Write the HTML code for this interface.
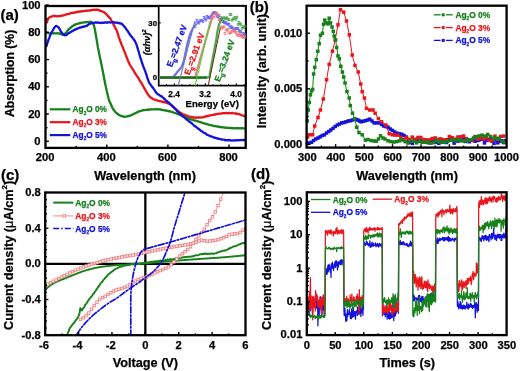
<!DOCTYPE html>
<html><head><meta charset="utf-8"><title>Ag2O figure</title>
<style>html,body{margin:0;padding:0;background:#fff;width:520px;height:371px;overflow:hidden}svg{display:block;filter:blur(0.3px)}</style>
</head><body>
<svg width="520" height="371" viewBox="0 0 520 371" font-family="'Liberation Sans', Arial, sans-serif">
<defs>
<clipPath id="clipc"><rect x="45.2" y="192.5" width="200.3" height="142.7"/></clipPath>
<clipPath id="clipd"><rect x="306.8" y="192.3" width="199.8" height="142.8"/></clipPath>
</defs>
<rect width="520" height="371" fill="#fff"/>
<polyline points="46.3,21.68 46.9,20.87 47.5,20.21 48.1,19.05 48.7,18.21 49.3,17.67 49.9,17.06 50.5,16.9 51.1,16.71 51.7,16.57 52.3,16.06 52.9,16.04 53.5,15.87 54.1,16.18 54.7,16.1 55.3,15.77 55.9,16.27 56.5,16.31 57.1,16.23 57.7,16.29 58.3,16.11 58.9,16.06 59.5,16.26 60.1,15.94 60.7,15.9 61.3,15.78 61.9,15.52 62.5,15.58 63.1,15.4 63.7,15.42 64.3,15.07 64.9,14.94 65.5,14.68 66.1,14.57 66.7,14.3 67.3,14.04 67.9,14.24 68.5,14.08 69.1,13.85 69.7,13.63 70.3,13.29 70.9,13.1 71.5,12.99 72.1,12.74 72.7,12.96 73.3,12.64 73.9,12.74 74.5,12.39 75.1,12.55 75.7,12.38 76.3,11.85 76.9,11.84 77.5,12.09 78.1,11.77 78.7,11.93 79.3,11.55 79.9,11.3 80.5,11.5 81.1,11.5 81.7,11.18 82.3,11.02 82.9,11.07 83.5,11.33 84.1,11.16 84.7,10.78 85.3,10.79 85.9,10.67 86.5,10.6 87.1,10.92 87.7,10.57 88.3,10.71 88.9,10.61 89.5,10.42 90.1,10.63 90.7,10.23 91.3,10.37 91.9,9.95 92.5,9.95 93.1,9.73 93.7,9.68 94.3,9.99 94.9,9.88 95.5,9.61 96.1,9.89 96.7,9.57 97.3,9.67 97.9,9.95 98.5,9.94 99.1,9.93 99.7,10.78 100.3,10.66 100.9,10.9 101.5,11.35 102.1,11.34 102.7,11.55 103.3,11.73 103.9,12.06 104.5,12.73 105.1,13.02 105.7,13.7 106.3,14.14 106.9,14.77 107.5,15.63 108.1,16.04 108.7,16.76 109.3,17.61 109.9,18.01 110.5,18.78 111.1,20.02 111.7,20.96 112.3,21.8 112.9,23.03 113.5,24.59 114.1,25.89 114.7,26.53 115.3,27.85 115.9,28.87 116.5,30.05 117.1,31.64 117.7,33.31 118.3,35.17 118.9,37.55 119.5,38.97 120.1,40.87 120.7,42.23 121.3,44.03 121.9,45.39 122.5,46.71 123.1,48.13 123.7,49.89 124.3,51.02 124.9,52.57 125.5,54.2 126.1,55.83 126.7,57.27 127.3,58.71 127.9,60.65 128.5,61.84 129.1,63.09 129.7,64.43 130.3,65.6 130.9,66.36 131.5,67.34 132.1,68.32 132.7,69.32 133.3,70.01 133.9,71.07 134.5,72.29 135.1,73.3 135.7,74.1 136.3,75.08 136.9,75.98 137.5,76.72 138.1,77.61 138.7,78.55 139.3,79.94 139.9,80.77 140.5,81.85 141.1,82.35 141.7,83.64 142.3,84.59 142.9,85.77 143.5,86.64 144.1,88.05 144.7,88.62 145.3,89.89 145.9,91.02 146.5,92.15 147.1,93.07 147.7,94.01 148.3,94.87 148.9,95.72 149.5,96.08 150.1,96.86 150.7,97.5 151.3,97.98 151.9,98.19 152.5,98.77 153.1,99.15 153.7,99.32 154.3,99.6 154.9,99.73 155.5,100 156.1,100.19 156.7,100.09 157.3,100.51 157.9,100.83 158.5,100.92 159.1,100.99 159.7,100.97 160.3,101.3 160.9,101.37 161.5,101.45 162.1,101.79 162.7,101.56 163.3,102.04 163.9,101.83 164.5,102.27 165.1,102.38 165.7,102.44 166.3,102.84 166.9,102.92 167.5,103.15 168.1,103.51 168.7,103.45 169.3,103.66 169.9,104.18 170.5,104.77 171.1,105.02 171.7,105.48 172.3,106.34 172.9,106.74 173.5,107.16 174.1,107.92 174.7,108.17 175.3,108.87 175.9,109.15 176.5,109.78 177.1,110.49 177.7,111.03 178.3,111.45 178.9,111.64 179.5,112.18 180.1,112.47 180.7,112.72 181.3,113.24 181.9,113.75 182.5,114.1 183.1,114.31 183.7,114.72 184.3,114.66 184.9,114.89 185.5,115.27 186.1,115.41 186.7,115.61 187.3,115.94 187.9,116.24 188.5,116.35 189.1,116.44 189.7,116.88 190.3,117.1 190.9,116.96 191.5,116.9 192.1,117 192.7,117.52 193.3,117.18 193.9,117.58 194.5,117.58 195.1,117.51 195.7,117.77 196.3,117.4 196.9,117.48 197.5,117.66 198.1,117.43 198.7,117.81 199.3,117.49 199.9,117.42 200.5,117.31 201.1,117.52 201.7,117.35 202.3,117.37 202.9,117.27 203.5,117.21 204.1,117.15 204.7,116.88 205.3,116.5 205.9,116.48 206.5,116.18 207.1,115.94 207.7,116.03 208.3,116.01 208.9,115.6 209.5,115.5 210.1,115.4 210.7,115.45 211.3,115.23 211.9,115.15 212.5,115.09 213.1,114.77 213.7,114.84 214.3,114.76 214.9,114.22 215.5,114.51 216.1,114.29 216.7,113.87 217.3,113.91 217.9,113.89 218.5,113.94 219.1,113.58 219.7,113.58 220.3,113.66 220.9,113.55 221.5,113.57 222.1,113.26 222.7,113.3 223.3,113.04 223.9,113.26 224.5,113.26 225.1,113.13 225.7,113.15 226.3,112.88 226.9,113.21 227.5,113.23 228.1,113.23 228.7,113.01 229.3,113.14 229.9,112.91 230.5,113.23 231.1,113.24 231.7,113.02 232.3,112.93 232.9,113.17 233.5,113.29 234.1,113.46 234.7,113.41 235.3,113.28 235.9,113.76 236.5,113.49 237.1,113.98 237.7,113.78 238.3,113.99 238.9,114.37 239.5,114.2 240.1,114.37 240.7,114.74 241.3,115.03 241.9,115.28 242.5,115.41 243.1,115.75 243.7,115.73 244.3,116.16" fill="none" stroke="#e8161b" stroke-width="2.3" stroke-linejoin="round" stroke-linecap="round"/>
<polyline points="46.3,32.53 46.9,32.7 47.5,32.94 48.1,32.96 48.7,33.24 49.3,33.29 49.9,33.31 50.5,33.47 51.1,33.36 51.7,33.26 52.3,33.27 52.9,33.44 53.5,33.46 54.1,33.17 54.7,33.41 55.3,33.45 55.9,33.28 56.5,33.32 57.1,33.22 57.7,33.41 58.3,33.47 58.9,33.6 59.5,33.47 60.1,33.97 60.7,33.97 61.3,34.14 61.9,34.55 62.5,34.67 63.1,34.77 63.7,34.83 64.3,34.29 64.9,33.89 65.5,33.13 66.1,32.65 66.7,31.95 67.3,30.95 67.9,30.31 68.5,29.48 69.1,28.98 69.7,28.56 70.3,28.06 70.9,27.39 71.5,26.84 72.1,26.34 72.7,26.07 73.3,25.81 73.9,25.11 74.5,25.06 75.1,24.47 75.7,24.3 76.3,24.08 76.9,24.08 77.5,23.75 78.1,23.59 78.7,23.52 79.3,23.15 79.9,23.24 80.5,22.86 81.1,22.88 81.7,22.66 82.3,22.53 82.9,22.56 83.5,22.44 84.1,22.34 84.7,22.3 85.3,22.3 85.9,22.11 86.5,22.09 87.1,22.21 87.7,22.16 88.3,22.03 88.9,22.02 89.5,21.79 90.1,21.84 90.7,21.67 91.3,22.04 91.9,22.4 92.5,22.97 93.1,23.44 93.7,24.67 94.3,26.94 94.9,29.4 95.5,32.94 96.1,36.34 96.7,39.78 97.3,43.64 97.9,47.39 98.5,50.33 99.1,53.17 99.7,56.31 100.3,59.05 100.9,62.12 101.5,64.78 102.1,67.86 102.7,71.02 103.3,73.86 103.9,77.04 104.5,80.27 105.1,83.34 105.7,86.3 106.3,88.84 106.9,91.71 107.5,94.13 108.1,96.57 108.7,99.09 109.3,100.68 109.9,102.1 110.5,103.46 111.1,104.77 111.7,106.35 112.3,107.63 112.9,108.76 113.5,109.52 114.1,110.34 114.7,111.03 115.3,111.94 115.9,112.6 116.5,113.12 117.1,113.32 117.7,113.78 118.3,114.57 118.9,114.78 119.5,115.25 120.1,115.41 120.7,115.75 121.3,116.01 121.9,116.19 122.5,116.42 123.1,116.33 123.7,116.69 124.3,116.8 124.9,116.57 125.5,116.65 126.1,116.72 126.7,116.49 127.3,116.29 127.9,116.13 128.5,116.09 129.1,115.71 129.7,115.83 130.3,115.57 130.9,115.27 131.5,115.06 132.1,114.69 132.7,114.32 133.3,114.12 133.9,113.8 134.5,113.7 135.1,113.34 135.7,112.83 136.3,112.79 136.9,112.42 137.5,112.15 138.1,111.89 138.7,111.46 139.3,111.43 139.9,111.19 140.5,110.94 141.1,110.81 141.7,110.68 142.3,110.43 142.9,110.45 143.5,110.11 144.1,110.15 144.7,110.12 145.3,109.87 145.9,109.93 146.5,109.96 147.1,109.87 147.7,109.63 148.3,109.84 148.9,109.65 149.5,109.45 150.1,109.51 150.7,109.42 151.3,109.34 151.9,109.24 152.5,109.45 153.1,109.28 153.7,109.28 154.3,109.31 154.9,109.4 155.5,109.02 156.1,109.29 156.7,109.37 157.3,109.21 157.9,109.31 158.5,109.23 159.1,109.34 159.7,109.47 160.3,109.43 160.9,109.57 161.5,109.91 162.1,109.86 162.7,109.93 163.3,110.21 163.9,110.17 164.5,110.45 165.1,110.43 165.7,110.62 166.3,110.46 166.9,110.8 167.5,111 168.1,110.85 168.7,111.35 169.3,111.18 169.9,111.44 170.5,111.46 171.1,111.74 171.7,111.94 172.3,111.9 172.9,112.44 173.5,112.44 174.1,112.69 174.7,112.93 175.3,113.06 175.9,113.27 176.5,113.65 177.1,113.85 177.7,113.97 178.3,114.38 178.9,114.46 179.5,114.6 180.1,114.93 180.7,115.1 181.3,115.39 181.9,115.88 182.5,115.98 183.1,116.43 183.7,116.61 184.3,116.58 184.9,117.2 185.5,117.42 186.1,117.32 186.7,117.89 187.3,117.93 187.9,118.18 188.5,118.61 189.1,118.55 189.7,118.89 190.3,119.28 190.9,119.39 191.5,119.49 192.1,119.9 192.7,120.04 193.3,120.13 193.9,120.12 194.5,120.5 195.1,120.61 195.7,120.68 196.3,120.78 196.9,121.13 197.5,121.14 198.1,121.44 198.7,121.7 199.3,121.78 199.9,121.88 200.5,122.19 201.1,122.31 201.7,122.64 202.3,122.72 202.9,123.1 203.5,123.27 204.1,123.37 204.7,123.36 205.3,123.5 205.9,123.99 206.5,124.13 207.1,124.25 207.7,124.32 208.3,124.45 208.9,124.77 209.5,124.89 210.1,125.06 210.7,125.22 211.3,125.41 211.9,125.33 212.5,125.49 213.1,125.91 213.7,126.02 214.3,126.13 214.9,125.92 215.5,126.04 216.1,126.24 216.7,126.41 217.3,126.61 217.9,126.5 218.5,126.77 219.1,126.68 219.7,126.79 220.3,127.11 220.9,127.15 221.5,127.26 222.1,127.24 222.7,127.36 223.3,127.32 223.9,127.44 224.5,127.67 225.1,127.77 225.7,127.52 226.3,127.59 226.9,127.91 227.5,127.89 228.1,127.98 228.7,127.8 229.3,127.92 229.9,127.9 230.5,128.14 231.1,127.99 231.7,128.13 232.3,128.29 232.9,128.05 233.5,128.16 234.1,128.26 234.7,128.35 235.3,128.17 235.9,128.16 236.5,128.07 237.1,128.39 237.7,128.09 238.3,128.1 238.9,128.31 239.5,128.29 240.1,128.38 240.7,128.24 241.3,128.44 241.9,128.17 242.5,128.24 243.1,128.43 243.7,128.22 244.3,128.32" fill="none" stroke="#16801a" stroke-width="2.3" stroke-linejoin="round" stroke-linecap="round"/>
<polyline points="46.3,46.11 46.9,44.41 47.5,42.51 48.1,40.78 48.7,39.26 49.3,37.82 49.9,36.06 50.5,34.5 51.1,33.5 51.7,32.22 52.3,31.25 52.9,30.16 53.5,29.1 54.1,27.93 54.7,27.29 55.3,26.4 55.9,26.02 56.5,25.95 57.1,26.38 57.7,26.78 58.3,27.09 58.9,27.9 59.5,28.83 60.1,29.96 60.7,31.11 61.3,32.04 61.9,32.7 62.5,33.57 63.1,34.29 63.7,34.67 64.3,35.2 64.9,35.24 65.5,35.01 66.1,35.1 66.7,34.87 67.3,34.18 67.9,33.58 68.5,33.34 69.1,32.93 69.7,32.56 70.3,32.4 70.9,31.91 71.5,31.65 72.1,30.96 72.7,30.89 73.3,30.7 73.9,30.04 74.5,29.74 75.1,29.77 75.7,29.57 76.3,28.87 76.9,28.88 77.5,28.37 78.1,28.43 78.7,28.14 79.3,27.73 79.9,27.51 80.5,27.6 81.1,27.3 81.7,27.25 82.3,26.9 82.9,26.7 83.5,26.86 84.1,26.57 84.7,26.35 85.3,26.25 85.9,26.2 86.5,25.98 87.1,25.75 87.7,25.01 88.3,24.65 88.9,24.15 89.5,23.95 90.1,23.69 90.7,23.5 91.3,23.36 91.9,23.26 92.5,22.97 93.1,22.82 93.7,22.83 94.3,22.81 94.9,22.56 95.5,22.52 96.1,22.35 96.7,22.63 97.3,22.76 97.9,22.52 98.5,22.56 99.1,22.7 99.7,22.84 100.3,22.79 100.9,23.1 101.5,22.63 102.1,22.72 102.7,22.58 103.3,22.81 103.9,22.83 104.5,22.5 105.1,22.4 105.7,22.56 106.3,22.6 106.9,22.73 107.5,22.27 108.1,22.29 108.7,22.31 109.3,22.31 109.9,22.31 110.5,22.54 111.1,22.47 111.7,22.28 112.3,22.26 112.9,22.31 113.5,22.26 114.1,22.58 114.7,22.39 115.3,22.54 115.9,22.74 116.5,22.62 117.1,22.59 117.7,22.99 118.3,23.09 118.9,22.93 119.5,23.15 120.1,23.52 120.7,23.46 121.3,23.58 121.9,23.82 122.5,24.72 123.1,25.23 123.7,25.66 124.3,26.42 124.9,27.19 125.5,27.9 126.1,29.1 126.7,29.8 127.3,30.46 127.9,31.23 128.5,32.36 129.1,33.19 129.7,34.29 130.3,35.11 130.9,35.91 131.5,36.46 132.1,37.23 132.7,38.01 133.3,38.68 133.9,39.73 134.5,40.38 135.1,41.37 135.7,42.8 136.3,43.97 136.9,45.93 137.5,47.63 138.1,49.86 138.7,51.52 139.3,54.02 139.9,56.07 140.5,58.08 141.1,59.74 141.7,61.78 142.3,63.81 142.9,65.12 143.5,66.83 144.1,68.28 144.7,69.99 145.3,71.36 145.9,73.21 146.5,74.83 147.1,77.12 147.7,78.84 148.3,80.75 148.9,81.78 149.5,83.23 150.1,83.9 150.7,84.92 151.3,85.72 151.9,86.31 152.5,87.43 153.1,87.97 153.7,88.85 154.3,89.63 154.9,90.66 155.5,91.61 156.1,92.57 156.7,93.08 157.3,93.84 157.9,94.04 158.5,94.54 159.1,94.91 159.7,95.47 160.3,95.76 160.9,96.08 161.5,96.2 162.1,96.87 162.7,97.53 163.3,97.82 163.9,98.5 164.5,98.98 165.1,99.29 165.7,100.31 166.3,100.75 166.9,101 167.5,101.74 168.1,102.11 168.7,102.68 169.3,103.3 169.9,103.71 170.5,104.27 171.1,104.83 171.7,105.51 172.3,105.85 172.9,106.37 173.5,107.19 174.1,107.56 174.7,108.44 175.3,108.85 175.9,109.58 176.5,110.05 177.1,111.04 177.7,111.39 178.3,112.12 178.9,112.71 179.5,113.6 180.1,114.19 180.7,114.43 181.3,115.05 181.9,115.78 182.5,116.15 183.1,116.38 183.7,116.92 184.3,117.36 184.9,117.82 185.5,118.43 186.1,118.73 186.7,119.62 187.3,119.84 187.9,120.35 188.5,120.89 189.1,121.43 189.7,121.92 190.3,122.19 190.9,122.65 191.5,123.18 192.1,123.48 192.7,124.16 193.3,124.81 193.9,125.45 194.5,125.85 195.1,126.29 195.7,126.74 196.3,126.93 196.9,127.57 197.5,128.06 198.1,128.66 198.7,128.84 199.3,129.42 199.9,129.93 200.5,130.49 201.1,130.92 201.7,131.22 202.3,131.4 202.9,132.1 203.5,132.55 204.1,132.76 204.7,133.05 205.3,133.49 205.9,133.65 206.5,134.29 207.1,134.77 207.7,134.87 208.3,135.26 208.9,135.62 209.5,135.6 210.1,136.26 210.7,136.34 211.3,136.37 211.9,136.55 212.5,136.87 213.1,137.23 213.7,137.48 214.3,137.48 214.9,137.97 215.5,137.85 216.1,138.05 216.7,138.04 217.3,138.62 217.9,138.34 218.5,138.86 219.1,138.82 219.7,138.96 220.3,139.09 220.9,139.07 221.5,139.52 222.1,139.69 222.7,139.72 223.3,139.71 223.9,139.58 224.5,140.04 225.1,139.85 225.7,140.23 226.3,139.98 226.9,140.22 227.5,140.4 228.1,140.12 228.7,140.34 229.3,140.14 229.9,140.16 230.5,140.24 231.1,140.65 231.7,140.63 232.3,140.49 232.9,140.32 233.5,140.5 234.1,140.52 234.7,140.33 235.3,140.41 235.9,140.5 236.5,140.09 237.1,140.16 237.7,140.28 238.3,140.09 238.9,140.19 239.5,140.25 240.1,140.03 240.7,140.17 241.3,140.02 241.9,140.14 242.5,140 243.1,140.13 243.7,139.8 244.3,140.09" fill="none" stroke="#1212dc" stroke-width="2.3" stroke-linejoin="round" stroke-linecap="round"/>
<circle cx="46.6" cy="21.9" r="1.8" fill="#e8161b"/>
<rect x="45.5" y="6" width="200.2" height="141.9" fill="none" stroke="#000" stroke-width="2.3"/>
<line x1="45.5" y1="141.3" x2="48.9" y2="141.3" stroke="#000" stroke-width="1.4"/>
<line x1="45.5" y1="127.68" x2="47.5" y2="127.68" stroke="#000" stroke-width="1.4"/>
<line x1="45.5" y1="114.05" x2="48.9" y2="114.05" stroke="#000" stroke-width="1.4"/>
<line x1="45.5" y1="100.43" x2="47.5" y2="100.43" stroke="#000" stroke-width="1.4"/>
<line x1="45.5" y1="86.8" x2="48.9" y2="86.8" stroke="#000" stroke-width="1.4"/>
<line x1="45.5" y1="73.18" x2="47.5" y2="73.18" stroke="#000" stroke-width="1.4"/>
<line x1="45.5" y1="59.55" x2="48.9" y2="59.55" stroke="#000" stroke-width="1.4"/>
<line x1="45.5" y1="45.93" x2="47.5" y2="45.93" stroke="#000" stroke-width="1.4"/>
<line x1="45.5" y1="32.3" x2="48.9" y2="32.3" stroke="#000" stroke-width="1.4"/>
<line x1="45.5" y1="18.68" x2="47.5" y2="18.68" stroke="#000" stroke-width="1.4"/>
<line x1="45.5" y1="5.05" x2="48.9" y2="5.05" stroke="#000" stroke-width="1.4"/>
<line x1="76.25" y1="147.9" x2="76.25" y2="145.9" stroke="#000" stroke-width="1.4"/>
<line x1="106.8" y1="147.9" x2="106.8" y2="144.5" stroke="#000" stroke-width="1.4"/>
<line x1="137.35" y1="147.9" x2="137.35" y2="145.9" stroke="#000" stroke-width="1.4"/>
<line x1="167.9" y1="147.9" x2="167.9" y2="144.5" stroke="#000" stroke-width="1.4"/>
<line x1="198.45" y1="147.9" x2="198.45" y2="145.9" stroke="#000" stroke-width="1.4"/>
<line x1="229" y1="147.9" x2="229" y2="144.5" stroke="#000" stroke-width="1.4"/>
<text x="40.6" y="144.8" font-size="11.2" text-anchor="end" fill="#000" font-weight="bold" stroke="#000" stroke-width="0.25">0</text>
<text x="40.6" y="117.55" font-size="11.2" text-anchor="end" fill="#000" font-weight="bold" stroke="#000" stroke-width="0.25">20</text>
<text x="40.6" y="90.3" font-size="11.2" text-anchor="end" fill="#000" font-weight="bold" stroke="#000" stroke-width="0.25">40</text>
<text x="40.6" y="63.05" font-size="11.2" text-anchor="end" fill="#000" font-weight="bold" stroke="#000" stroke-width="0.25">60</text>
<text x="40.6" y="35.8" font-size="11.2" text-anchor="end" fill="#000" font-weight="bold" stroke="#000" stroke-width="0.25">80</text>
<text x="40.6" y="8.55" font-size="11.2" text-anchor="end" fill="#000" font-weight="bold" stroke="#000" stroke-width="0.25">100</text>
<text x="45.2" y="161.3" font-size="11.2" text-anchor="middle" fill="#000" font-weight="bold" stroke="#000" stroke-width="0.25">200</text>
<text x="106.3" y="161.3" font-size="11.2" text-anchor="middle" fill="#000" font-weight="bold" stroke="#000" stroke-width="0.25">400</text>
<text x="167.4" y="161.3" font-size="11.2" text-anchor="middle" fill="#000" font-weight="bold" stroke="#000" stroke-width="0.25">600</text>
<text x="228.5" y="161.3" font-size="11.2" text-anchor="middle" fill="#000" font-weight="bold" stroke="#000" stroke-width="0.25">800</text>
<text x="145" y="180" font-size="12.7" text-anchor="middle" fill="#000" font-weight="bold" stroke="#000" stroke-width="0.25">Wavelength (nm)</text>
<text x="14.2" y="73.4" font-size="12.2" text-anchor="middle" fill="#000" font-weight="bold" transform="rotate(-90 14.2 73.4)" stroke="#000" stroke-width="0.25">Absorption (%)</text>
<text x="0.5" y="20.1" font-size="15" text-anchor="start" fill="#000" font-weight="bold" stroke="#000" stroke-width="0.25">(a)</text>
<line x1="49.8" y1="109.3" x2="70.3" y2="109.3" stroke="#16801a" stroke-width="2.2"/>
<text x="72.6" y="112.3" font-size="8.3" fill="#16801a" font-weight="bold" text-anchor="start" stroke="#16801a" stroke-width="0.25">Ag<tspan font-size="4.65" dy="2.2">2</tspan><tspan dy="-2.2">O 0%</tspan></text>
<line x1="49.8" y1="122.2" x2="70.3" y2="122.2" stroke="#e8161b" stroke-width="2.2"/>
<text x="72.6" y="125.2" font-size="8.3" fill="#e8161b" font-weight="bold" text-anchor="start" stroke="#e8161b" stroke-width="0.25">Ag<tspan font-size="4.65" dy="2.2">2</tspan><tspan dy="-2.2">O 3%</tspan></text>
<line x1="49.8" y1="135.1" x2="70.3" y2="135.1" stroke="#1212dc" stroke-width="2.2"/>
<text x="72.6" y="138.1" font-size="8.3" fill="#1212dc" font-weight="bold" text-anchor="start" stroke="#1212dc" stroke-width="0.25">Ag<tspan font-size="4.65" dy="2.2">2</tspan><tspan dy="-2.2">O 5%</tspan></text>
<rect x="158.7" y="6" width="87" height="79.6" fill="#fff" stroke="#000" stroke-width="1.7"/>
<line x1="166.55" y1="85.6" x2="166.55" y2="84.2" stroke="#000" stroke-width="1.0"/>
<line x1="174.3" y1="85.6" x2="174.3" y2="83.2" stroke="#000" stroke-width="1.0"/>
<line x1="182.05" y1="85.6" x2="182.05" y2="84.2" stroke="#000" stroke-width="1.0"/>
<line x1="189.8" y1="85.6" x2="189.8" y2="84.2" stroke="#000" stroke-width="1.0"/>
<line x1="197.55" y1="85.6" x2="197.55" y2="84.2" stroke="#000" stroke-width="1.0"/>
<line x1="205.3" y1="85.6" x2="205.3" y2="83.2" stroke="#000" stroke-width="1.0"/>
<line x1="213.05" y1="85.6" x2="213.05" y2="84.2" stroke="#000" stroke-width="1.0"/>
<line x1="220.8" y1="85.6" x2="220.8" y2="84.2" stroke="#000" stroke-width="1.0"/>
<line x1="228.55" y1="85.6" x2="228.55" y2="84.2" stroke="#000" stroke-width="1.0"/>
<line x1="236.3" y1="85.6" x2="236.3" y2="83.2" stroke="#000" stroke-width="1.0"/>
<line x1="244.05" y1="85.6" x2="244.05" y2="84.2" stroke="#000" stroke-width="1.0"/>
<line x1="158.7" y1="77.5" x2="160.9" y2="77.5" stroke="#000" stroke-width="1.0"/>
<line x1="158.7" y1="22.9" x2="160.9" y2="22.9" stroke="#000" stroke-width="1.0"/>
<line x1="158.7" y1="50.2" x2="160" y2="50.2" stroke="#000" stroke-width="1.0"/>
<text x="174.1" y="96.6" font-size="8.3" text-anchor="middle" fill="#000" font-weight="bold" stroke="#000" stroke-width="0.25">2.4</text>
<text x="205.1" y="96.6" font-size="8.3" text-anchor="middle" fill="#000" font-weight="bold" stroke="#000" stroke-width="0.25">3.2</text>
<text x="236.1" y="96.6" font-size="8.3" text-anchor="middle" fill="#000" font-weight="bold" stroke="#000" stroke-width="0.25">4.0</text>
<text x="157" y="80.2" font-size="7.8" text-anchor="end" fill="#000" font-weight="bold" stroke="#000" stroke-width="0.25">0</text>
<text x="157" y="25.6" font-size="7.8" text-anchor="end" fill="#000" font-weight="bold" stroke="#000" stroke-width="0.25">30</text>
<text x="212.2" y="107.4" font-size="9.6" text-anchor="middle" fill="#000" font-weight="bold" stroke="#000" stroke-width="0.25">Energy (eV)</text>
<text x="150.2" y="42.3" font-size="9.2" font-weight="bold" font-style="italic" text-anchor="middle" transform="rotate(-90 150.2 42.3)" stroke="#000" stroke-width="0.25">(<tspan>αhν</tspan>)<tspan font-size="6.2" dy="-3.8">2</tspan></text>
<polyline points="160,77.32 160.5,77.73 161,77.56 161.5,77.49 162,77.47 162.5,77.58 163,77.61 163.5,77.65 164,77.65 164.5,77.52 165,77.78 165.5,77.7 166,77.71 166.5,77.49 167,77.5 167.5,77.57 168,77.73 168.5,77.54 169,77.53 169.5,77.47 170,77.7 170.5,77.39 171,77.24 171.5,77.54 172,77.48 172.5,77.12 173,76.73 173.5,76.46 174,75.84 174.5,75.54 175,74.8 175.5,74.31 176,73.86 176.5,73.24 177,72.49 177.5,71.6 178,71.23 178.5,70.51 179,69.85 179.5,69.45 180,69.02 180.5,68.3 181,67.43 181.5,66.96 182,65.99 182.5,64.71 183,63.53 183.5,61.77 184,60.01 184.5,57.51 185,55.32 185.5,52.68 186,50.4 186.5,47.66 187,45.82 187.5,43.35 188,41.49 188.5,39.7 189,37.46 189.5,35.98 190,34.55 190.5,33.28 191,31.97 191.5,31.26 192,30.16 192.5,28.95 193,28.06 193.5,27.44 194,26.53 194.5,25.91" fill="none" stroke="#5c5cf0" stroke-width="2.2" stroke-linejoin="round" stroke-linecap="round" stroke-opacity="0.9"/>
<rect x="194.1" y="25.54" width="1.8" height="1.8" fill="none" stroke="#5c5cf0" stroke-width="0.7"/>
<rect x="195.1" y="22.87" width="1.8" height="1.8" fill="none" stroke="#5c5cf0" stroke-width="0.7"/>
<rect x="196.1" y="19.49" width="1.8" height="1.8" fill="none" stroke="#5c5cf0" stroke-width="0.7"/>
<rect x="197.1" y="21.63" width="1.8" height="1.8" fill="none" stroke="#5c5cf0" stroke-width="0.7"/>
<rect x="198.1" y="22.24" width="1.8" height="1.8" fill="none" stroke="#5c5cf0" stroke-width="0.7"/>
<rect x="199.1" y="19.84" width="1.8" height="1.8" fill="none" stroke="#5c5cf0" stroke-width="0.7"/>
<rect x="200.1" y="19.68" width="1.8" height="1.8" fill="none" stroke="#5c5cf0" stroke-width="0.7"/>
<rect x="201.1" y="19.83" width="1.8" height="1.8" fill="none" stroke="#5c5cf0" stroke-width="0.7"/>
<rect x="202.1" y="20.67" width="1.8" height="1.8" fill="none" stroke="#5c5cf0" stroke-width="0.7"/>
<rect x="203.1" y="16.41" width="1.8" height="1.8" fill="none" stroke="#5c5cf0" stroke-width="0.7"/>
<rect x="204.1" y="18.06" width="1.8" height="1.8" fill="none" stroke="#5c5cf0" stroke-width="0.7"/>
<rect x="205.1" y="19.09" width="1.8" height="1.8" fill="none" stroke="#5c5cf0" stroke-width="0.7"/>
<rect x="206.1" y="15.39" width="1.8" height="1.8" fill="none" stroke="#5c5cf0" stroke-width="0.7"/>
<rect x="207.1" y="16.97" width="1.8" height="1.8" fill="none" stroke="#5c5cf0" stroke-width="0.7"/>
<rect x="208.1" y="16.57" width="1.8" height="1.8" fill="none" stroke="#5c5cf0" stroke-width="0.7"/>
<rect x="209.1" y="17.17" width="1.8" height="1.8" fill="none" stroke="#5c5cf0" stroke-width="0.7"/>
<rect x="210.1" y="15.19" width="1.8" height="1.8" fill="none" stroke="#5c5cf0" stroke-width="0.7"/>
<rect x="211.1" y="13.77" width="1.8" height="1.8" fill="none" stroke="#5c5cf0" stroke-width="0.7"/>
<rect x="212.1" y="12.58" width="1.8" height="1.8" fill="none" stroke="#5c5cf0" stroke-width="0.7"/>
<rect x="213.1" y="11.49" width="1.8" height="1.8" fill="none" stroke="#5c5cf0" stroke-width="0.7"/>
<rect x="214.1" y="11.9" width="1.8" height="1.8" fill="none" stroke="#5c5cf0" stroke-width="0.7"/>
<rect x="215.1" y="12.04" width="1.8" height="1.8" fill="none" stroke="#5c5cf0" stroke-width="0.7"/>
<rect x="216.1" y="15.1" width="1.8" height="1.8" fill="none" stroke="#5c5cf0" stroke-width="0.7"/>
<rect x="217.1" y="15.89" width="1.8" height="1.8" fill="none" stroke="#5c5cf0" stroke-width="0.7"/>
<rect x="218.1" y="14.54" width="1.8" height="1.8" fill="none" stroke="#5c5cf0" stroke-width="0.7"/>
<rect x="219.1" y="19.21" width="1.8" height="1.8" fill="none" stroke="#5c5cf0" stroke-width="0.7"/>
<rect x="220.1" y="19" width="1.8" height="1.8" fill="none" stroke="#5c5cf0" stroke-width="0.7"/>
<rect x="221.1" y="16.98" width="1.8" height="1.8" fill="none" stroke="#5c5cf0" stroke-width="0.7"/>
<rect x="222.1" y="20.63" width="1.8" height="1.8" fill="none" stroke="#5c5cf0" stroke-width="0.7"/>
<rect x="223.1" y="21.6" width="1.8" height="1.8" fill="none" stroke="#5c5cf0" stroke-width="0.7"/>
<rect x="224.1" y="22.17" width="1.8" height="1.8" fill="none" stroke="#5c5cf0" stroke-width="0.7"/>
<rect x="225.1" y="21.08" width="1.8" height="1.8" fill="none" stroke="#5c5cf0" stroke-width="0.7"/>
<rect x="226.1" y="23.17" width="1.8" height="1.8" fill="none" stroke="#5c5cf0" stroke-width="0.7"/>
<rect x="227.1" y="23.54" width="1.8" height="1.8" fill="none" stroke="#5c5cf0" stroke-width="0.7"/>
<rect x="228.1" y="23.14" width="1.8" height="1.8" fill="none" stroke="#5c5cf0" stroke-width="0.7"/>
<rect x="229.1" y="26.55" width="1.8" height="1.8" fill="none" stroke="#5c5cf0" stroke-width="0.7"/>
<rect x="230.1" y="25.66" width="1.8" height="1.8" fill="none" stroke="#5c5cf0" stroke-width="0.7"/>
<rect x="231.1" y="26.88" width="1.8" height="1.8" fill="none" stroke="#5c5cf0" stroke-width="0.7"/>
<rect x="232.1" y="26.94" width="1.8" height="1.8" fill="none" stroke="#5c5cf0" stroke-width="0.7"/>
<rect x="233.1" y="29.29" width="1.8" height="1.8" fill="none" stroke="#5c5cf0" stroke-width="0.7"/>
<rect x="234.1" y="28.3" width="1.8" height="1.8" fill="none" stroke="#5c5cf0" stroke-width="0.7"/>
<rect x="235.1" y="27.39" width="1.8" height="1.8" fill="none" stroke="#5c5cf0" stroke-width="0.7"/>
<rect x="236.1" y="27.8" width="1.8" height="1.8" fill="none" stroke="#5c5cf0" stroke-width="0.7"/>
<rect x="237.1" y="27.53" width="1.8" height="1.8" fill="none" stroke="#5c5cf0" stroke-width="0.7"/>
<rect x="238.1" y="29.66" width="1.8" height="1.8" fill="none" stroke="#5c5cf0" stroke-width="0.7"/>
<rect x="239.1" y="30.6" width="1.8" height="1.8" fill="none" stroke="#5c5cf0" stroke-width="0.7"/>
<rect x="240.1" y="30.87" width="1.8" height="1.8" fill="none" stroke="#5c5cf0" stroke-width="0.7"/>
<rect x="241.1" y="35.37" width="1.8" height="1.8" fill="none" stroke="#5c5cf0" stroke-width="0.7"/>
<rect x="242.1" y="32.74" width="1.8" height="1.8" fill="none" stroke="#5c5cf0" stroke-width="0.7"/>
<rect x="243.1" y="32.94" width="1.8" height="1.8" fill="none" stroke="#5c5cf0" stroke-width="0.7"/>
<rect x="244.1" y="33.74" width="1.8" height="1.8" fill="none" stroke="#5c5cf0" stroke-width="0.7"/>
<polyline points="160,77.74 160.5,77.47 161,77.52 161.5,77.52 162,77.28 162.5,77.56 163,77.4 163.5,77.39 164,77.67 164.5,77.31 165,77.41 165.5,77.65 166,77.39 166.5,77.41 167,77.55 167.5,77.37 168,77.73 168.5,77.77 169,77.3 169.5,77.52 170,77.66 170.5,77.48 171,77.76 171.5,77.54 172,77.38 172.5,77.57 173,77.62 173.5,77.48 174,77.63 174.5,77.7 175,77.57 175.5,77.56 176,77.73 176.5,77.65 177,77.57 177.5,77.79 178,77.4 178.5,77.7 179,77.4 179.5,77.62 180,77.43 180.5,77.54 181,77.7 181.5,77.71 182,77.71 182.5,77.44 183,77.56 183.5,77.43 184,77.61 184.5,77.57 185,77.34 185.5,77.62 186,77.68 186.5,77.6 187,77.75 187.5,77.4 188,77.38 188.5,77.31 189,77.54 189.5,77.5 190,77.5 190.5,77.41 191,77.67 191.5,77.3 192,77.71 192.5,77.54 193,77.52 193.5,77.63 194,77.34 194.5,77.28 195,77.35 195.5,77.2 196,73.68 196.5,72.1 197,70.33 197.5,68.49 198,66.91 198.5,64.91 199,63.51 199.5,61.43 200,59.7 200.5,57.88 201,56.37 201.5,54.66 202,52.85 202.5,50.7 203,49.08 203.5,47.27 204,45.42 204.5,44.03 205,41.81 205.5,40.28 206,38.67 206.5,37.04 207,34.89 207.5,33.32 208,31.76 208.5,29.74 209,28.18 209.5,26.87 210,24.89 210.5,23.42 211,21.8 211.5,20.25 212,18.46 212.5,16.95" fill="none" stroke="#f07070" stroke-width="2.2" stroke-linejoin="round" stroke-linecap="round" stroke-opacity="0.9"/>
<rect x="212.1" y="14.56" width="1.8" height="1.8" fill="none" stroke="#f07070" stroke-width="0.7"/>
<rect x="213.1" y="16.36" width="1.8" height="1.8" fill="none" stroke="#f07070" stroke-width="0.7"/>
<rect x="214.1" y="13.03" width="1.8" height="1.8" fill="none" stroke="#f07070" stroke-width="0.7"/>
<rect x="215.1" y="13.05" width="1.8" height="1.8" fill="none" stroke="#f07070" stroke-width="0.7"/>
<rect x="216.1" y="12.51" width="1.8" height="1.8" fill="none" stroke="#f07070" stroke-width="0.7"/>
<rect x="217.1" y="14.71" width="1.8" height="1.8" fill="none" stroke="#f07070" stroke-width="0.7"/>
<rect x="218.1" y="18.63" width="1.8" height="1.8" fill="none" stroke="#f07070" stroke-width="0.7"/>
<rect x="219.1" y="19.82" width="1.8" height="1.8" fill="none" stroke="#f07070" stroke-width="0.7"/>
<rect x="220.1" y="25.88" width="1.8" height="1.8" fill="none" stroke="#f07070" stroke-width="0.7"/>
<rect x="221.1" y="27.24" width="1.8" height="1.8" fill="none" stroke="#f07070" stroke-width="0.7"/>
<rect x="222.1" y="26.5" width="1.8" height="1.8" fill="none" stroke="#f07070" stroke-width="0.7"/>
<rect x="223.1" y="25.75" width="1.8" height="1.8" fill="none" stroke="#f07070" stroke-width="0.7"/>
<rect x="224.1" y="32.64" width="1.8" height="1.8" fill="none" stroke="#f07070" stroke-width="0.7"/>
<rect x="225.1" y="28.93" width="1.8" height="1.8" fill="none" stroke="#f07070" stroke-width="0.7"/>
<rect x="226.1" y="29.4" width="1.8" height="1.8" fill="none" stroke="#f07070" stroke-width="0.7"/>
<rect x="227.1" y="28.2" width="1.8" height="1.8" fill="none" stroke="#f07070" stroke-width="0.7"/>
<rect x="228.1" y="31.84" width="1.8" height="1.8" fill="none" stroke="#f07070" stroke-width="0.7"/>
<rect x="229.1" y="32.25" width="1.8" height="1.8" fill="none" stroke="#f07070" stroke-width="0.7"/>
<rect x="230.1" y="31.76" width="1.8" height="1.8" fill="none" stroke="#f07070" stroke-width="0.7"/>
<rect x="231.1" y="30.51" width="1.8" height="1.8" fill="none" stroke="#f07070" stroke-width="0.7"/>
<rect x="232.1" y="28.97" width="1.8" height="1.8" fill="none" stroke="#f07070" stroke-width="0.7"/>
<rect x="233.1" y="29.54" width="1.8" height="1.8" fill="none" stroke="#f07070" stroke-width="0.7"/>
<rect x="234.1" y="30.93" width="1.8" height="1.8" fill="none" stroke="#f07070" stroke-width="0.7"/>
<rect x="235.1" y="31.55" width="1.8" height="1.8" fill="none" stroke="#f07070" stroke-width="0.7"/>
<rect x="236.1" y="33.85" width="1.8" height="1.8" fill="none" stroke="#f07070" stroke-width="0.7"/>
<rect x="237.1" y="34.72" width="1.8" height="1.8" fill="none" stroke="#f07070" stroke-width="0.7"/>
<rect x="238.1" y="32.92" width="1.8" height="1.8" fill="none" stroke="#f07070" stroke-width="0.7"/>
<rect x="239.1" y="34.82" width="1.8" height="1.8" fill="none" stroke="#f07070" stroke-width="0.7"/>
<rect x="240.1" y="33.88" width="1.8" height="1.8" fill="none" stroke="#f07070" stroke-width="0.7"/>
<rect x="241.1" y="34.76" width="1.8" height="1.8" fill="none" stroke="#f07070" stroke-width="0.7"/>
<rect x="242.1" y="36.55" width="1.8" height="1.8" fill="none" stroke="#f07070" stroke-width="0.7"/>
<rect x="243.1" y="35.19" width="1.8" height="1.8" fill="none" stroke="#f07070" stroke-width="0.7"/>
<rect x="244.1" y="36.31" width="1.8" height="1.8" fill="none" stroke="#f07070" stroke-width="0.7"/>
<polyline points="160,77.35 160.5,77.36 161,77.49 161.5,77.41 162,77.48 162.5,77.76 163,77.6 163.5,77.69 164,77.37 164.5,77.46 165,77.31 165.5,77.62 166,77.45 166.5,77.41 167,77.29 167.5,77.37 168,77.41 168.5,77.48 169,77.75 169.5,77.64 170,77.42 170.5,77.47 171,77.37 171.5,77.76 172,77.48 172.5,77.68 173,77.66 173.5,77.76 174,77.32 174.5,77.47 175,77.5 175.5,77.35 176,77.76 176.5,77.48 177,77.7 177.5,77.58 178,77.35 178.5,77.52 179,77.45 179.5,77.35 180,77.41 180.5,77.63 181,77.35 181.5,77.49 182,77.55 182.5,77.61 183,77.41 183.5,77.7 184,77.47 184.5,77.71 185,77.68 185.5,77.42 186,77.45 186.5,77.49 187,77.7 187.5,77.55 188,77.54 188.5,77.78 189,77.46 189.5,77.5 190,77.52 190.5,77.46 191,77.37 191.5,77.36 192,77.67 192.5,77.64 193,77.76 193.5,77.84 194,77.5 194.5,77.69 195,77.81 195.5,77.46 196,77.7 196.5,77.69 197,77.83 197.5,77.78 198,77.46 198.5,77.65 199,77.37 199.5,77.54 200,77.51 200.5,77.34 201,77.5 201.5,77.46 202,77.54 202.5,77.43 203,77.36 203.5,77.48 204,77.51 204.5,77.35 205,77.59 205.5,77.38 206,77.3 206.5,77.39 207,77.4 207.5,77.23 208,77.42 208.5,77.44 209,77.34 209.5,77.38 210,72.56 210.5,70.38 211,67.71 211.5,64.78 212,62.09 212.5,59.14 213,56.66 213.5,54.11 214,51.49 214.5,48.86 215,46.24 215.5,43.44 216,40.7 216.5,37.74 217,34.22 217.5,31.18 218,28.83 218.5,26.24 219,24.51 219.5,23.31 220,22.68 220.5,21.82" fill="none" stroke="#3a9e3a" stroke-width="2.2" stroke-linejoin="round" stroke-linecap="round" stroke-opacity="0.9"/>
<rect x="220.1" y="16.84" width="1.8" height="1.8" fill="none" stroke="#3a9e3a" stroke-width="0.7"/>
<rect x="221.1" y="18.24" width="1.8" height="1.8" fill="none" stroke="#3a9e3a" stroke-width="0.7"/>
<rect x="222.1" y="20.14" width="1.8" height="1.8" fill="none" stroke="#3a9e3a" stroke-width="0.7"/>
<rect x="223.1" y="16.8" width="1.8" height="1.8" fill="none" stroke="#3a9e3a" stroke-width="0.7"/>
<rect x="224.1" y="17.54" width="1.8" height="1.8" fill="none" stroke="#3a9e3a" stroke-width="0.7"/>
<rect x="225.1" y="17.22" width="1.8" height="1.8" fill="none" stroke="#3a9e3a" stroke-width="0.7"/>
<rect x="226.1" y="16.85" width="1.8" height="1.8" fill="none" stroke="#3a9e3a" stroke-width="0.7"/>
<rect x="227.1" y="18.37" width="1.8" height="1.8" fill="none" stroke="#3a9e3a" stroke-width="0.7"/>
<rect x="228.1" y="18.93" width="1.8" height="1.8" fill="none" stroke="#3a9e3a" stroke-width="0.7"/>
<rect x="229.1" y="13.51" width="1.8" height="1.8" fill="none" stroke="#3a9e3a" stroke-width="0.7"/>
<rect x="230.1" y="13.69" width="1.8" height="1.8" fill="none" stroke="#3a9e3a" stroke-width="0.7"/>
<rect x="231.1" y="19.4" width="1.8" height="1.8" fill="none" stroke="#3a9e3a" stroke-width="0.7"/>
<rect x="232.1" y="18.03" width="1.8" height="1.8" fill="none" stroke="#3a9e3a" stroke-width="0.7"/>
<rect x="233.1" y="17.79" width="1.8" height="1.8" fill="none" stroke="#3a9e3a" stroke-width="0.7"/>
<rect x="234.1" y="16.56" width="1.8" height="1.8" fill="none" stroke="#3a9e3a" stroke-width="0.7"/>
<rect x="235.1" y="18.59" width="1.8" height="1.8" fill="none" stroke="#3a9e3a" stroke-width="0.7"/>
<rect x="236.1" y="16.13" width="1.8" height="1.8" fill="none" stroke="#3a9e3a" stroke-width="0.7"/>
<rect x="237.1" y="23.82" width="1.8" height="1.8" fill="none" stroke="#3a9e3a" stroke-width="0.7"/>
<rect x="238.1" y="21.59" width="1.8" height="1.8" fill="none" stroke="#3a9e3a" stroke-width="0.7"/>
<rect x="239.1" y="23" width="1.8" height="1.8" fill="none" stroke="#3a9e3a" stroke-width="0.7"/>
<rect x="240.1" y="23.76" width="1.8" height="1.8" fill="none" stroke="#3a9e3a" stroke-width="0.7"/>
<rect x="241.1" y="27.44" width="1.8" height="1.8" fill="none" stroke="#3a9e3a" stroke-width="0.7"/>
<rect x="242.1" y="25.87" width="1.8" height="1.8" fill="none" stroke="#3a9e3a" stroke-width="0.7"/>
<rect x="243.1" y="26.67" width="1.8" height="1.8" fill="none" stroke="#3a9e3a" stroke-width="0.7"/>
<rect x="244.1" y="25.37" width="1.8" height="1.8" fill="none" stroke="#3a9e3a" stroke-width="0.7"/>
<line x1="160" y1="77.6" x2="207" y2="77.6" stroke="#1f6e1f" stroke-width="2.4"/>
<line x1="178.2" y1="85.5" x2="194.9" y2="21" stroke="#6f7fa8" stroke-width="1.1"/>
<line x1="195.2" y1="85.5" x2="210.2" y2="21" stroke="#30e030" stroke-width="1.1"/>
<line x1="208.2" y1="85.5" x2="220.4" y2="27.5" stroke="#7a2a1a" stroke-width="1.1"/>
<text x="172.1" y="67.6" font-size="8.6" font-weight="bold" fill="#1212dc" transform="rotate(-70 172.1 67.6)" stroke="#1212dc" stroke-width="0.25">E<tspan font-size="6" dy="2.2">g</tspan><tspan dy="-2.2">=2.47 eV</tspan></text>
<text x="189.6" y="75.6" font-size="8.6" font-weight="bold" fill="#e8161b" transform="rotate(-70 189.6 75.6)" stroke="#e8161b" stroke-width="0.25">E<tspan font-size="6" dy="2.2">g</tspan><tspan dy="-2.2">=2.91 eV</tspan></text>
<text x="219.8" y="82.2" font-size="8.6" font-weight="bold" fill="#16801a" transform="rotate(-70 219.8 82.2)" stroke="#16801a" stroke-width="0.25">E<tspan font-size="6" dy="2.2">g</tspan><tspan dy="-2.2">=3.24 eV</tspan></text>
<polyline points="307.4,143.4 309.3,143 311.5,142.3 313.6,140.5 315.8,139 318,138 320.1,136.9 322.2,135.5 324.4,134.8 326.5,133 328.7,131.5 330.8,130 333,128.3 335.2,126.5 337.4,125 339.5,124 341.7,122.9 343.8,122.5 346,121.8 348.2,121 350.3,120.7 352.5,120 354.6,119.2 356.2,119.5 357.9,120 359.5,121 361.1,121.8 363.2,121.2 365.4,120.7 367.6,120 369.8,119.2 372,121 374.1,122.9 376.8,122.9 379.5,122.9 381.6,124.5 383.8,126 386,126.6 388.1,127.2 390.2,129 392.4,130.4 394.7,132 397,133.2 399.4,133.8 401.8,134.3 404,135.5 406.2,137 408.5,140.26 410.4,142.22 412.3,143.37 414.2,139.53 416.1,140.45 418,139.12 419.9,141.39 421.8,141.13 423.7,140.64 425.6,140.36 427.5,142.52 429.4,142.69 431.3,140.25 433.2,140.72 435.1,141.72 437,142.37 438.9,143.32 440.8,140.71 442.7,142.05 444.6,141.4 446.5,142.52 448.4,139.65 450.3,139.77 452.2,139.47 454.1,143.11 456,140.11 457.9,141.15 459.8,139.53 461.7,140.42 463.6,139.08 465.5,141.49 467.4,139.63 469.3,141.75 471.2,140.21 473.1,140 475,141.12 476.9,140.61 478.8,140.14 480.7,139.23 482.6,139.28 484.5,142.93 486.4,140.36 488.3,139.35 490.2,139.8 492.1,141.13 494,143.39 495.9,139.89 497.8,142.82 499.7,141.13 501.6,140.82 503.5,142.55 505.4,140.74" fill="none" stroke="#1212dc" stroke-width="1.0" stroke-linejoin="round" stroke-linecap="round"/>
<rect x="305.65" y="141.65" width="3.5" height="3.5" fill="#1212dc"/>
<rect x="307.55" y="141.25" width="3.5" height="3.5" fill="#1212dc"/>
<rect x="309.75" y="140.55" width="3.5" height="3.5" fill="#1212dc"/>
<rect x="311.85" y="138.75" width="3.5" height="3.5" fill="#1212dc"/>
<rect x="314.05" y="137.25" width="3.5" height="3.5" fill="#1212dc"/>
<rect x="316.25" y="136.25" width="3.5" height="3.5" fill="#1212dc"/>
<rect x="318.35" y="135.15" width="3.5" height="3.5" fill="#1212dc"/>
<rect x="320.45" y="133.75" width="3.5" height="3.5" fill="#1212dc"/>
<rect x="322.65" y="133.05" width="3.5" height="3.5" fill="#1212dc"/>
<rect x="324.75" y="131.25" width="3.5" height="3.5" fill="#1212dc"/>
<rect x="326.95" y="129.75" width="3.5" height="3.5" fill="#1212dc"/>
<rect x="329.05" y="128.25" width="3.5" height="3.5" fill="#1212dc"/>
<rect x="331.25" y="126.55" width="3.5" height="3.5" fill="#1212dc"/>
<rect x="333.45" y="124.75" width="3.5" height="3.5" fill="#1212dc"/>
<rect x="335.65" y="123.25" width="3.5" height="3.5" fill="#1212dc"/>
<rect x="337.75" y="122.25" width="3.5" height="3.5" fill="#1212dc"/>
<rect x="339.95" y="121.15" width="3.5" height="3.5" fill="#1212dc"/>
<rect x="342.05" y="120.75" width="3.5" height="3.5" fill="#1212dc"/>
<rect x="344.25" y="120.05" width="3.5" height="3.5" fill="#1212dc"/>
<rect x="346.45" y="119.25" width="3.5" height="3.5" fill="#1212dc"/>
<rect x="348.55" y="118.95" width="3.5" height="3.5" fill="#1212dc"/>
<rect x="350.75" y="118.25" width="3.5" height="3.5" fill="#1212dc"/>
<rect x="352.85" y="117.45" width="3.5" height="3.5" fill="#1212dc"/>
<rect x="354.45" y="117.75" width="3.5" height="3.5" fill="#1212dc"/>
<rect x="356.15" y="118.25" width="3.5" height="3.5" fill="#1212dc"/>
<rect x="357.75" y="119.25" width="3.5" height="3.5" fill="#1212dc"/>
<rect x="359.35" y="120.05" width="3.5" height="3.5" fill="#1212dc"/>
<rect x="361.45" y="119.45" width="3.5" height="3.5" fill="#1212dc"/>
<rect x="363.65" y="118.95" width="3.5" height="3.5" fill="#1212dc"/>
<rect x="365.85" y="118.25" width="3.5" height="3.5" fill="#1212dc"/>
<rect x="368.05" y="117.45" width="3.5" height="3.5" fill="#1212dc"/>
<rect x="370.25" y="119.25" width="3.5" height="3.5" fill="#1212dc"/>
<rect x="372.35" y="121.15" width="3.5" height="3.5" fill="#1212dc"/>
<rect x="375.05" y="121.15" width="3.5" height="3.5" fill="#1212dc"/>
<rect x="377.75" y="121.15" width="3.5" height="3.5" fill="#1212dc"/>
<rect x="379.85" y="122.75" width="3.5" height="3.5" fill="#1212dc"/>
<rect x="382.05" y="124.25" width="3.5" height="3.5" fill="#1212dc"/>
<rect x="384.25" y="124.85" width="3.5" height="3.5" fill="#1212dc"/>
<rect x="386.35" y="125.45" width="3.5" height="3.5" fill="#1212dc"/>
<rect x="388.45" y="127.25" width="3.5" height="3.5" fill="#1212dc"/>
<rect x="390.65" y="128.65" width="3.5" height="3.5" fill="#1212dc"/>
<rect x="392.95" y="130.25" width="3.5" height="3.5" fill="#1212dc"/>
<rect x="395.25" y="131.45" width="3.5" height="3.5" fill="#1212dc"/>
<rect x="397.65" y="132.05" width="3.5" height="3.5" fill="#1212dc"/>
<rect x="400.05" y="132.55" width="3.5" height="3.5" fill="#1212dc"/>
<rect x="402.25" y="133.75" width="3.5" height="3.5" fill="#1212dc"/>
<rect x="404.45" y="135.25" width="3.5" height="3.5" fill="#1212dc"/>
<rect x="406.75" y="138.51" width="3.5" height="3.5" fill="#1212dc"/>
<rect x="408.65" y="140.47" width="3.5" height="3.5" fill="#1212dc"/>
<rect x="410.55" y="141.62" width="3.5" height="3.5" fill="#1212dc"/>
<rect x="412.45" y="137.78" width="3.5" height="3.5" fill="#1212dc"/>
<rect x="414.35" y="138.7" width="3.5" height="3.5" fill="#1212dc"/>
<rect x="416.25" y="137.37" width="3.5" height="3.5" fill="#1212dc"/>
<rect x="418.15" y="139.64" width="3.5" height="3.5" fill="#1212dc"/>
<rect x="420.05" y="139.38" width="3.5" height="3.5" fill="#1212dc"/>
<rect x="421.95" y="138.89" width="3.5" height="3.5" fill="#1212dc"/>
<rect x="423.85" y="138.61" width="3.5" height="3.5" fill="#1212dc"/>
<rect x="425.75" y="140.77" width="3.5" height="3.5" fill="#1212dc"/>
<rect x="427.65" y="140.94" width="3.5" height="3.5" fill="#1212dc"/>
<rect x="429.55" y="138.5" width="3.5" height="3.5" fill="#1212dc"/>
<rect x="431.45" y="138.97" width="3.5" height="3.5" fill="#1212dc"/>
<rect x="433.35" y="139.97" width="3.5" height="3.5" fill="#1212dc"/>
<rect x="435.25" y="140.62" width="3.5" height="3.5" fill="#1212dc"/>
<rect x="437.15" y="141.57" width="3.5" height="3.5" fill="#1212dc"/>
<rect x="439.05" y="138.96" width="3.5" height="3.5" fill="#1212dc"/>
<rect x="440.95" y="140.3" width="3.5" height="3.5" fill="#1212dc"/>
<rect x="442.85" y="139.65" width="3.5" height="3.5" fill="#1212dc"/>
<rect x="444.75" y="140.77" width="3.5" height="3.5" fill="#1212dc"/>
<rect x="446.65" y="137.9" width="3.5" height="3.5" fill="#1212dc"/>
<rect x="448.55" y="138.02" width="3.5" height="3.5" fill="#1212dc"/>
<rect x="450.45" y="137.72" width="3.5" height="3.5" fill="#1212dc"/>
<rect x="452.35" y="141.36" width="3.5" height="3.5" fill="#1212dc"/>
<rect x="454.25" y="138.36" width="3.5" height="3.5" fill="#1212dc"/>
<rect x="456.15" y="139.4" width="3.5" height="3.5" fill="#1212dc"/>
<rect x="458.05" y="137.78" width="3.5" height="3.5" fill="#1212dc"/>
<rect x="459.95" y="138.67" width="3.5" height="3.5" fill="#1212dc"/>
<rect x="461.85" y="137.33" width="3.5" height="3.5" fill="#1212dc"/>
<rect x="463.75" y="139.74" width="3.5" height="3.5" fill="#1212dc"/>
<rect x="465.65" y="137.88" width="3.5" height="3.5" fill="#1212dc"/>
<rect x="467.55" y="140" width="3.5" height="3.5" fill="#1212dc"/>
<rect x="469.45" y="138.46" width="3.5" height="3.5" fill="#1212dc"/>
<rect x="471.35" y="138.25" width="3.5" height="3.5" fill="#1212dc"/>
<rect x="473.25" y="139.37" width="3.5" height="3.5" fill="#1212dc"/>
<rect x="475.15" y="138.86" width="3.5" height="3.5" fill="#1212dc"/>
<rect x="477.05" y="138.39" width="3.5" height="3.5" fill="#1212dc"/>
<rect x="478.95" y="137.48" width="3.5" height="3.5" fill="#1212dc"/>
<rect x="480.85" y="137.53" width="3.5" height="3.5" fill="#1212dc"/>
<rect x="482.75" y="141.18" width="3.5" height="3.5" fill="#1212dc"/>
<rect x="484.65" y="138.61" width="3.5" height="3.5" fill="#1212dc"/>
<rect x="486.55" y="137.6" width="3.5" height="3.5" fill="#1212dc"/>
<rect x="488.45" y="138.05" width="3.5" height="3.5" fill="#1212dc"/>
<rect x="490.35" y="139.38" width="3.5" height="3.5" fill="#1212dc"/>
<rect x="492.25" y="141.64" width="3.5" height="3.5" fill="#1212dc"/>
<rect x="494.15" y="138.14" width="3.5" height="3.5" fill="#1212dc"/>
<rect x="496.05" y="141.07" width="3.5" height="3.5" fill="#1212dc"/>
<rect x="497.95" y="139.38" width="3.5" height="3.5" fill="#1212dc"/>
<rect x="499.85" y="139.07" width="3.5" height="3.5" fill="#1212dc"/>
<rect x="501.75" y="140.8" width="3.5" height="3.5" fill="#1212dc"/>
<rect x="503.65" y="138.99" width="3.5" height="3.5" fill="#1212dc"/>
<polyline points="307.5,137 309.3,134.8 312.6,134.8 314.7,126 318,117.5 320.5,110 323.3,99 326.6,79.7 329.2,64.4 332.4,51.2 335.2,39.9 338,24.8 340.5,9.7 343.7,12.2 346.5,21 349.3,34.8 352.2,55 355,65.4 358.2,72 360.7,84 362.2,91.6 364.4,98 366.5,108.4 369.8,110 373,110 375.1,113.2 378.4,118.6 381.6,121.8 385.9,125 389.2,133.7 392.4,134.8 395.2,135.09 398.05,135.14 400.9,137.3 403.75,139.64 406.6,137.78 409.45,139.34 412.3,137.11 415.15,139.34 418,137.47 420.85,137.5 423.7,139.54 426.55,139.95 429.4,139.88 432.25,138.62 435.1,137.92 437.95,139.29 440.8,138.89 443.65,139.89 446.5,139.75 449.35,136.5 452.2,137.71 455.05,139.11 457.9,137.01 460.75,136.79 463.6,135.97 466.45,138.71 469.3,140.42 472.15,140.56 475,136.54 477.85,139.2 480.7,137.91 483.55,138.93 486.4,137.8 489.25,140.38 492.1,140.65 494.95,136.13 497.8,139.32 500.65,136.47 503.5,136.1" fill="none" stroke="#e8161b" stroke-width="1.0" stroke-linejoin="round" stroke-linecap="round"/>
<rect x="305.75" y="135.25" width="3.5" height="3.5" fill="#e8161b"/>
<rect x="307.55" y="133.05" width="3.5" height="3.5" fill="#e8161b"/>
<rect x="310.85" y="133.05" width="3.5" height="3.5" fill="#e8161b"/>
<rect x="312.95" y="124.25" width="3.5" height="3.5" fill="#e8161b"/>
<rect x="316.25" y="115.75" width="3.5" height="3.5" fill="#e8161b"/>
<rect x="318.75" y="108.25" width="3.5" height="3.5" fill="#e8161b"/>
<rect x="321.55" y="97.25" width="3.5" height="3.5" fill="#e8161b"/>
<rect x="324.85" y="77.95" width="3.5" height="3.5" fill="#e8161b"/>
<rect x="327.45" y="62.65" width="3.5" height="3.5" fill="#e8161b"/>
<rect x="330.65" y="49.45" width="3.5" height="3.5" fill="#e8161b"/>
<rect x="333.45" y="38.15" width="3.5" height="3.5" fill="#e8161b"/>
<rect x="336.25" y="23.05" width="3.5" height="3.5" fill="#e8161b"/>
<rect x="338.75" y="7.95" width="3.5" height="3.5" fill="#e8161b"/>
<rect x="341.95" y="10.45" width="3.5" height="3.5" fill="#e8161b"/>
<rect x="344.75" y="19.25" width="3.5" height="3.5" fill="#e8161b"/>
<rect x="347.55" y="33.05" width="3.5" height="3.5" fill="#e8161b"/>
<rect x="350.45" y="53.25" width="3.5" height="3.5" fill="#e8161b"/>
<rect x="353.25" y="63.65" width="3.5" height="3.5" fill="#e8161b"/>
<rect x="356.45" y="70.25" width="3.5" height="3.5" fill="#e8161b"/>
<rect x="358.95" y="82.25" width="3.5" height="3.5" fill="#e8161b"/>
<rect x="360.45" y="89.85" width="3.5" height="3.5" fill="#e8161b"/>
<rect x="362.65" y="96.25" width="3.5" height="3.5" fill="#e8161b"/>
<rect x="364.75" y="106.65" width="3.5" height="3.5" fill="#e8161b"/>
<rect x="368.05" y="108.25" width="3.5" height="3.5" fill="#e8161b"/>
<rect x="371.25" y="108.25" width="3.5" height="3.5" fill="#e8161b"/>
<rect x="373.35" y="111.45" width="3.5" height="3.5" fill="#e8161b"/>
<rect x="376.65" y="116.85" width="3.5" height="3.5" fill="#e8161b"/>
<rect x="379.85" y="120.05" width="3.5" height="3.5" fill="#e8161b"/>
<rect x="384.15" y="123.25" width="3.5" height="3.5" fill="#e8161b"/>
<rect x="387.45" y="131.95" width="3.5" height="3.5" fill="#e8161b"/>
<rect x="390.65" y="133.05" width="3.5" height="3.5" fill="#e8161b"/>
<rect x="393.45" y="133.34" width="3.5" height="3.5" fill="#e8161b"/>
<rect x="396.3" y="133.39" width="3.5" height="3.5" fill="#e8161b"/>
<rect x="399.15" y="135.55" width="3.5" height="3.5" fill="#e8161b"/>
<rect x="402" y="137.89" width="3.5" height="3.5" fill="#e8161b"/>
<rect x="404.85" y="136.03" width="3.5" height="3.5" fill="#e8161b"/>
<rect x="407.7" y="137.59" width="3.5" height="3.5" fill="#e8161b"/>
<rect x="410.55" y="135.36" width="3.5" height="3.5" fill="#e8161b"/>
<rect x="413.4" y="137.59" width="3.5" height="3.5" fill="#e8161b"/>
<rect x="416.25" y="135.72" width="3.5" height="3.5" fill="#e8161b"/>
<rect x="419.1" y="135.75" width="3.5" height="3.5" fill="#e8161b"/>
<rect x="421.95" y="137.79" width="3.5" height="3.5" fill="#e8161b"/>
<rect x="424.8" y="138.2" width="3.5" height="3.5" fill="#e8161b"/>
<rect x="427.65" y="138.13" width="3.5" height="3.5" fill="#e8161b"/>
<rect x="430.5" y="136.87" width="3.5" height="3.5" fill="#e8161b"/>
<rect x="433.35" y="136.17" width="3.5" height="3.5" fill="#e8161b"/>
<rect x="436.2" y="137.54" width="3.5" height="3.5" fill="#e8161b"/>
<rect x="439.05" y="137.14" width="3.5" height="3.5" fill="#e8161b"/>
<rect x="441.9" y="138.14" width="3.5" height="3.5" fill="#e8161b"/>
<rect x="444.75" y="138" width="3.5" height="3.5" fill="#e8161b"/>
<rect x="447.6" y="134.75" width="3.5" height="3.5" fill="#e8161b"/>
<rect x="450.45" y="135.96" width="3.5" height="3.5" fill="#e8161b"/>
<rect x="453.3" y="137.36" width="3.5" height="3.5" fill="#e8161b"/>
<rect x="456.15" y="135.26" width="3.5" height="3.5" fill="#e8161b"/>
<rect x="459" y="135.04" width="3.5" height="3.5" fill="#e8161b"/>
<rect x="461.85" y="134.22" width="3.5" height="3.5" fill="#e8161b"/>
<rect x="464.7" y="136.96" width="3.5" height="3.5" fill="#e8161b"/>
<rect x="467.55" y="138.67" width="3.5" height="3.5" fill="#e8161b"/>
<rect x="470.4" y="138.81" width="3.5" height="3.5" fill="#e8161b"/>
<rect x="473.25" y="134.79" width="3.5" height="3.5" fill="#e8161b"/>
<rect x="476.1" y="137.45" width="3.5" height="3.5" fill="#e8161b"/>
<rect x="478.95" y="136.16" width="3.5" height="3.5" fill="#e8161b"/>
<rect x="481.8" y="137.18" width="3.5" height="3.5" fill="#e8161b"/>
<rect x="484.65" y="136.05" width="3.5" height="3.5" fill="#e8161b"/>
<rect x="487.5" y="138.63" width="3.5" height="3.5" fill="#e8161b"/>
<rect x="490.35" y="138.9" width="3.5" height="3.5" fill="#e8161b"/>
<rect x="493.2" y="134.38" width="3.5" height="3.5" fill="#e8161b"/>
<rect x="496.05" y="137.57" width="3.5" height="3.5" fill="#e8161b"/>
<rect x="498.9" y="134.72" width="3.5" height="3.5" fill="#e8161b"/>
<rect x="501.75" y="134.35" width="3.5" height="3.5" fill="#e8161b"/>
<polyline points="307.3,121 308.3,110 309.3,102.4 310.4,94.8 311.5,91 312.6,89.4 313.6,74 314.8,67.3 316.3,59.7 317.8,51.2 319.2,43.7 320.5,35.2 322.4,33.3 323.5,24.2 324.8,20.1 326.7,22.9 328,23.9 329.2,18.2 330.5,22.9 332,27 333.3,31.4 334.2,36.1 335.6,39.9 336.7,47.5 338,55.9 339.3,58.8 340.8,66.3 342.4,72 343.7,77 345,83 347,91.6 349.2,98 350.3,105.6 352.5,113.2 354.6,118.6 356.8,127.2 359,132.6 362.2,134.8 365.4,140.1 368,139.5 371,140.5 374,141 376.2,141.2 378.5,139 380.5,135.8 383,138 385,139 388,140.77 390.85,141.58 393.7,142.08 396.55,141.57 399.4,140.86 402.25,139.88 405.1,141.69 407.95,143.08 410.8,141.07 413.65,141.11 416.5,142.84 419.35,141 422.2,142.29 425.05,142.23 427.9,142.2 430.75,143.08 433.6,142.64 436.45,140.51 439.3,141.99 442.15,141.57 445,141.8 447.85,141.18 450.7,140.21 453.55,140.5 456.4,139.79 459.25,140.03 462.1,140.8 464.95,141.04 467.8,139.98 470.65,140.13 473.5,137.97 476.35,136.84 479.2,135.93 482.05,135.11 484.9,136.11 487.75,134.43 490.6,136.44 493.45,138.39 496.3,138.39 499.15,138.29 502,141.47 504.85,142.41" fill="none" stroke="#16801a" stroke-width="1.0" stroke-linejoin="round" stroke-linecap="round"/>
<rect x="305.55" y="119.25" width="3.5" height="3.5" fill="#16801a"/>
<rect x="306.55" y="108.25" width="3.5" height="3.5" fill="#16801a"/>
<rect x="307.55" y="100.65" width="3.5" height="3.5" fill="#16801a"/>
<rect x="308.65" y="93.05" width="3.5" height="3.5" fill="#16801a"/>
<rect x="309.75" y="89.25" width="3.5" height="3.5" fill="#16801a"/>
<rect x="310.85" y="87.65" width="3.5" height="3.5" fill="#16801a"/>
<rect x="311.85" y="72.25" width="3.5" height="3.5" fill="#16801a"/>
<rect x="313.05" y="65.55" width="3.5" height="3.5" fill="#16801a"/>
<rect x="314.55" y="57.95" width="3.5" height="3.5" fill="#16801a"/>
<rect x="316.05" y="49.45" width="3.5" height="3.5" fill="#16801a"/>
<rect x="317.45" y="41.95" width="3.5" height="3.5" fill="#16801a"/>
<rect x="318.75" y="33.45" width="3.5" height="3.5" fill="#16801a"/>
<rect x="320.65" y="31.55" width="3.5" height="3.5" fill="#16801a"/>
<rect x="321.75" y="22.45" width="3.5" height="3.5" fill="#16801a"/>
<rect x="323.05" y="18.35" width="3.5" height="3.5" fill="#16801a"/>
<rect x="324.95" y="21.15" width="3.5" height="3.5" fill="#16801a"/>
<rect x="326.25" y="22.15" width="3.5" height="3.5" fill="#16801a"/>
<rect x="327.45" y="16.45" width="3.5" height="3.5" fill="#16801a"/>
<rect x="328.75" y="21.15" width="3.5" height="3.5" fill="#16801a"/>
<rect x="330.25" y="25.25" width="3.5" height="3.5" fill="#16801a"/>
<rect x="331.55" y="29.65" width="3.5" height="3.5" fill="#16801a"/>
<rect x="332.45" y="34.35" width="3.5" height="3.5" fill="#16801a"/>
<rect x="333.85" y="38.15" width="3.5" height="3.5" fill="#16801a"/>
<rect x="334.95" y="45.75" width="3.5" height="3.5" fill="#16801a"/>
<rect x="336.25" y="54.15" width="3.5" height="3.5" fill="#16801a"/>
<rect x="337.55" y="57.05" width="3.5" height="3.5" fill="#16801a"/>
<rect x="339.05" y="64.55" width="3.5" height="3.5" fill="#16801a"/>
<rect x="340.65" y="70.25" width="3.5" height="3.5" fill="#16801a"/>
<rect x="341.95" y="75.25" width="3.5" height="3.5" fill="#16801a"/>
<rect x="343.25" y="81.25" width="3.5" height="3.5" fill="#16801a"/>
<rect x="345.25" y="89.85" width="3.5" height="3.5" fill="#16801a"/>
<rect x="347.45" y="96.25" width="3.5" height="3.5" fill="#16801a"/>
<rect x="348.55" y="103.85" width="3.5" height="3.5" fill="#16801a"/>
<rect x="350.75" y="111.45" width="3.5" height="3.5" fill="#16801a"/>
<rect x="352.85" y="116.85" width="3.5" height="3.5" fill="#16801a"/>
<rect x="355.05" y="125.45" width="3.5" height="3.5" fill="#16801a"/>
<rect x="357.25" y="130.85" width="3.5" height="3.5" fill="#16801a"/>
<rect x="360.45" y="133.05" width="3.5" height="3.5" fill="#16801a"/>
<rect x="363.65" y="138.35" width="3.5" height="3.5" fill="#16801a"/>
<rect x="366.25" y="137.75" width="3.5" height="3.5" fill="#16801a"/>
<rect x="369.25" y="138.75" width="3.5" height="3.5" fill="#16801a"/>
<rect x="372.25" y="139.25" width="3.5" height="3.5" fill="#16801a"/>
<rect x="374.45" y="139.45" width="3.5" height="3.5" fill="#16801a"/>
<rect x="376.75" y="137.25" width="3.5" height="3.5" fill="#16801a"/>
<rect x="378.75" y="134.05" width="3.5" height="3.5" fill="#16801a"/>
<rect x="381.25" y="136.25" width="3.5" height="3.5" fill="#16801a"/>
<rect x="383.25" y="137.25" width="3.5" height="3.5" fill="#16801a"/>
<rect x="386.25" y="139.02" width="3.5" height="3.5" fill="#16801a"/>
<rect x="389.1" y="139.83" width="3.5" height="3.5" fill="#16801a"/>
<rect x="391.95" y="140.33" width="3.5" height="3.5" fill="#16801a"/>
<rect x="394.8" y="139.82" width="3.5" height="3.5" fill="#16801a"/>
<rect x="397.65" y="139.11" width="3.5" height="3.5" fill="#16801a"/>
<rect x="400.5" y="138.13" width="3.5" height="3.5" fill="#16801a"/>
<rect x="403.35" y="139.94" width="3.5" height="3.5" fill="#16801a"/>
<rect x="406.2" y="141.33" width="3.5" height="3.5" fill="#16801a"/>
<rect x="409.05" y="139.32" width="3.5" height="3.5" fill="#16801a"/>
<rect x="411.9" y="139.36" width="3.5" height="3.5" fill="#16801a"/>
<rect x="414.75" y="141.09" width="3.5" height="3.5" fill="#16801a"/>
<rect x="417.6" y="139.25" width="3.5" height="3.5" fill="#16801a"/>
<rect x="420.45" y="140.54" width="3.5" height="3.5" fill="#16801a"/>
<rect x="423.3" y="140.48" width="3.5" height="3.5" fill="#16801a"/>
<rect x="426.15" y="140.45" width="3.5" height="3.5" fill="#16801a"/>
<rect x="429" y="141.33" width="3.5" height="3.5" fill="#16801a"/>
<rect x="431.85" y="140.89" width="3.5" height="3.5" fill="#16801a"/>
<rect x="434.7" y="138.76" width="3.5" height="3.5" fill="#16801a"/>
<rect x="437.55" y="140.24" width="3.5" height="3.5" fill="#16801a"/>
<rect x="440.4" y="139.82" width="3.5" height="3.5" fill="#16801a"/>
<rect x="443.25" y="140.05" width="3.5" height="3.5" fill="#16801a"/>
<rect x="446.1" y="139.43" width="3.5" height="3.5" fill="#16801a"/>
<rect x="448.95" y="138.46" width="3.5" height="3.5" fill="#16801a"/>
<rect x="451.8" y="138.75" width="3.5" height="3.5" fill="#16801a"/>
<rect x="454.65" y="138.04" width="3.5" height="3.5" fill="#16801a"/>
<rect x="457.5" y="138.28" width="3.5" height="3.5" fill="#16801a"/>
<rect x="460.35" y="139.05" width="3.5" height="3.5" fill="#16801a"/>
<rect x="463.2" y="139.29" width="3.5" height="3.5" fill="#16801a"/>
<rect x="466.05" y="138.23" width="3.5" height="3.5" fill="#16801a"/>
<rect x="468.9" y="138.38" width="3.5" height="3.5" fill="#16801a"/>
<rect x="471.75" y="136.22" width="3.5" height="3.5" fill="#16801a"/>
<rect x="474.6" y="135.09" width="3.5" height="3.5" fill="#16801a"/>
<rect x="477.45" y="134.18" width="3.5" height="3.5" fill="#16801a"/>
<rect x="480.3" y="133.36" width="3.5" height="3.5" fill="#16801a"/>
<rect x="483.15" y="134.36" width="3.5" height="3.5" fill="#16801a"/>
<rect x="486" y="132.68" width="3.5" height="3.5" fill="#16801a"/>
<rect x="488.85" y="134.69" width="3.5" height="3.5" fill="#16801a"/>
<rect x="491.7" y="136.64" width="3.5" height="3.5" fill="#16801a"/>
<rect x="494.55" y="136.64" width="3.5" height="3.5" fill="#16801a"/>
<rect x="497.4" y="136.54" width="3.5" height="3.5" fill="#16801a"/>
<rect x="500.25" y="139.72" width="3.5" height="3.5" fill="#16801a"/>
<rect x="503.1" y="140.66" width="3.5" height="3.5" fill="#16801a"/>
<rect x="306.6" y="5.7" width="200" height="141.9" fill="none" stroke="#000" stroke-width="2.3"/>
<line x1="306.6" y1="144.4" x2="310" y2="144.4" stroke="#000" stroke-width="1.4"/>
<line x1="306.6" y1="116.6" x2="308.6" y2="116.6" stroke="#000" stroke-width="1.4"/>
<line x1="306.6" y1="88.8" x2="310" y2="88.8" stroke="#000" stroke-width="1.4"/>
<line x1="306.6" y1="61" x2="308.6" y2="61" stroke="#000" stroke-width="1.4"/>
<line x1="306.6" y1="33.2" x2="310" y2="33.2" stroke="#000" stroke-width="1.4"/>
<line x1="321.42" y1="147.6" x2="321.42" y2="145.6" stroke="#000" stroke-width="1.4"/>
<line x1="335.64" y1="147.6" x2="335.64" y2="144.2" stroke="#000" stroke-width="1.4"/>
<line x1="349.86" y1="147.6" x2="349.86" y2="145.6" stroke="#000" stroke-width="1.4"/>
<line x1="364.08" y1="147.6" x2="364.08" y2="144.2" stroke="#000" stroke-width="1.4"/>
<line x1="378.3" y1="147.6" x2="378.3" y2="145.6" stroke="#000" stroke-width="1.4"/>
<line x1="392.52" y1="147.6" x2="392.52" y2="144.2" stroke="#000" stroke-width="1.4"/>
<line x1="406.74" y1="147.6" x2="406.74" y2="145.6" stroke="#000" stroke-width="1.4"/>
<line x1="420.96" y1="147.6" x2="420.96" y2="144.2" stroke="#000" stroke-width="1.4"/>
<line x1="435.18" y1="147.6" x2="435.18" y2="145.6" stroke="#000" stroke-width="1.4"/>
<line x1="449.4" y1="147.6" x2="449.4" y2="144.2" stroke="#000" stroke-width="1.4"/>
<line x1="463.62" y1="147.6" x2="463.62" y2="145.6" stroke="#000" stroke-width="1.4"/>
<line x1="477.84" y1="147.6" x2="477.84" y2="144.2" stroke="#000" stroke-width="1.4"/>
<line x1="492.06" y1="147.6" x2="492.06" y2="145.6" stroke="#000" stroke-width="1.4"/>
<text x="302.3" y="147.9" font-size="11.2" text-anchor="end" fill="#000" font-weight="bold" stroke="#000" stroke-width="0.25">0.000</text>
<text x="302.3" y="92.3" font-size="11.2" text-anchor="end" fill="#000" font-weight="bold" stroke="#000" stroke-width="0.25">0.005</text>
<text x="302.3" y="36.7" font-size="11.2" text-anchor="end" fill="#000" font-weight="bold" stroke="#000" stroke-width="0.25">0.010</text>
<text x="307.4" y="161.3" font-size="11.2" text-anchor="middle" fill="#000" font-weight="bold" stroke="#000" stroke-width="0.25">300</text>
<text x="335.84" y="161.3" font-size="11.2" text-anchor="middle" fill="#000" font-weight="bold" stroke="#000" stroke-width="0.25">400</text>
<text x="364.28" y="161.3" font-size="11.2" text-anchor="middle" fill="#000" font-weight="bold" stroke="#000" stroke-width="0.25">500</text>
<text x="392.72" y="161.3" font-size="11.2" text-anchor="middle" fill="#000" font-weight="bold" stroke="#000" stroke-width="0.25">600</text>
<text x="421.16" y="161.3" font-size="11.2" text-anchor="middle" fill="#000" font-weight="bold" stroke="#000" stroke-width="0.25">700</text>
<text x="449.6" y="161.3" font-size="11.2" text-anchor="middle" fill="#000" font-weight="bold" stroke="#000" stroke-width="0.25">800</text>
<text x="478.04" y="161.3" font-size="11.2" text-anchor="middle" fill="#000" font-weight="bold" stroke="#000" stroke-width="0.25">900</text>
<text x="506.48" y="161.3" font-size="11.2" text-anchor="middle" fill="#000" font-weight="bold" stroke="#000" stroke-width="0.25">1000</text>
<text x="407" y="180.2" font-size="12.7" text-anchor="middle" fill="#000" font-weight="bold" stroke="#000" stroke-width="0.25">Wavelength (nm)</text>
<text x="266.5" y="71.1" font-size="12.7" text-anchor="middle" fill="#000" font-weight="bold" transform="rotate(-90 266.5 71.1)" stroke="#000" stroke-width="0.25">Intensity (arb. unit)</text>
<text x="249.7" y="11.8" font-size="15" text-anchor="start" fill="#000" font-weight="bold" stroke="#000" stroke-width="0.25">(b)</text>
<line x1="433.8" y1="14.8" x2="440.6" y2="14.8" stroke="#16801a" stroke-width="1.3"/>
<line x1="445.9" y1="14.8" x2="452.7" y2="14.8" stroke="#16801a" stroke-width="1.3"/>
<rect x="441.7" y="13.3" width="3" height="3" fill="#16801a"/>
<text x="455.4" y="17.8" font-size="8.4" fill="#16801a" font-weight="bold" text-anchor="start" stroke="#16801a" stroke-width="0.25">Ag<tspan font-size="4.7" dy="2.2">2</tspan><tspan dy="-2.2">O 0%</tspan></text>
<line x1="433.8" y1="27.6" x2="440.6" y2="27.6" stroke="#e8161b" stroke-width="1.3"/>
<line x1="445.9" y1="27.6" x2="452.7" y2="27.6" stroke="#e8161b" stroke-width="1.3"/>
<rect x="441.7" y="26.1" width="3" height="3" fill="#e8161b"/>
<text x="455.4" y="30.6" font-size="8.4" fill="#e8161b" font-weight="bold" text-anchor="start" stroke="#e8161b" stroke-width="0.25">Ag<tspan font-size="4.7" dy="2.2">2</tspan><tspan dy="-2.2">O 3%</tspan></text>
<line x1="433.8" y1="40.4" x2="440.6" y2="40.4" stroke="#1212dc" stroke-width="1.3"/>
<line x1="445.9" y1="40.4" x2="452.7" y2="40.4" stroke="#1212dc" stroke-width="1.3"/>
<rect x="441.7" y="38.9" width="3" height="3" fill="#1212dc"/>
<text x="455.4" y="43.4" font-size="8.4" fill="#1212dc" font-weight="bold" text-anchor="start" stroke="#1212dc" stroke-width="0.25">Ag<tspan font-size="4.7" dy="2.2">2</tspan><tspan dy="-2.2">O 5%</tspan></text>
<line x1="45.2" y1="263.85" x2="245.5" y2="263.85" stroke="#000" stroke-width="2.3"/>
<line x1="145.35" y1="192.5" x2="145.35" y2="335.2" stroke="#000" stroke-width="2.3"/>
<g clip-path="url(#clipc)">
<polyline points="45,290 45.8,289.25 46.6,288.5 47.4,287.78 48.2,287.07 49,286.4 49.8,285.79 50.6,285.21 51.4,284.66 52.2,284.13 53,283.64 53.8,283.18 54.6,282.75 55.4,282.37 56.2,282 57,281.64 57.8,281.29 58.6,280.94 59.4,280.61 60.2,280.28 61,279.96 61.8,279.64 62.6,279.32 63.4,279 64.2,278.67 65,278.34 65.8,278.02 66.6,277.69 67.4,277.36 68.2,277.04 69,276.72 69.8,276.39 70.6,276.07 71.4,275.76 72.2,275.44 73,275.12 73.8,274.8 74.6,274.48 75.4,274.17 76.2,273.85 77,273.53 77.8,273.21 78.6,272.91 79.4,272.6 80.2,272.3 81,272 81.8,271.72 82.6,271.45 83.4,271.17 84.2,270.92 85,270.67 85.8,270.42 86.6,270.18 87.4,269.95 88.2,269.73 89,269.51 89.8,269.29 90.6,269.08 91.4,268.88 92.2,268.67 93,268.48 93.8,268.29 94.6,268.11 95.4,267.92 96.2,267.76 97,267.6 97.8,267.45 98.6,267.3 99.4,267.17 100.2,267.04 101,266.92 101.8,266.81 102.6,266.7 103.4,266.59 104.2,266.48 105,266.38 105.8,266.27 106.6,266.17 107.4,266.07 108.2,265.97 109,265.88 109.8,265.79 110.6,265.69 111.4,265.61 112.2,265.53 113,265.45 113.8,265.37 114.6,265.3 115.4,265.23 116.2,265.16 117,265.1 117.8,265.04 118.6,264.99 119.4,264.94 120.2,264.89 121,264.84 121.8,264.8 122.6,264.76 123.4,264.72 124.2,264.68 125,264.64 125.8,264.6 126.6,264.57 127.4,264.53 128.2,264.5 129,264.47 129.8,264.45 130.6,264.42 131.4,264.4 132.2,264.37 133,264.34 133.8,264.31 134.6,264.27 135.4,264.23 136.2,264.18 137,264.12 137.8,264.07 138.6,264 139.4,263.93 140.2,263.85 141,263.77 141.8,263.7 142.6,263.62 143.4,263.55 144.2,263.47 145,263.4 145.8,263.33 146.6,263.25 147.4,263.18 148.2,263.11 149,263.04 149.8,262.96 150.6,262.89 151.4,262.82 152.2,262.74 153,262.67 153.8,262.6 154.6,262.52 155.4,262.45 156.2,262.38 157,262.31 157.8,262.24 158.6,262.16 159.4,262.09 160.2,262.02 161,261.95 161.8,261.88 162.6,261.81 163.4,261.74 164.2,261.67 165,261.6 165.8,261.53 166.6,261.47 167.4,261.4 168.2,261.33 169,261.26 169.8,261.2 170.6,261.13 171.4,261.07 172.2,261 173,260.94 173.8,260.87 174.6,260.81 175.4,260.74 176.2,260.68 177,260.62 177.8,260.55 178.6,260.49 179.4,260.43 180.2,260.37 181,260.31 181.8,260.24 182.6,260.18 183.4,260.12 184.2,260.06 185,260 185.8,259.94 186.6,259.88 187.4,259.83 188.2,259.77 189,259.71 189.8,259.65 190.6,259.59 191.4,259.54 192.2,259.48 193,259.43 193.8,259.37 194.6,259.32 195.4,259.26 196.2,259.21 197,259.15 197.8,259.1 198.6,259.04 199.4,258.99 200.2,258.93 201,258.88 201.8,258.82 202.6,258.77 203.4,258.71 204.2,258.66 205,258.6 205.8,258.55 206.6,258.49 207.4,258.44 208.2,258.38 209,258.33 209.8,258.28 210.6,258.22 211.4,258.17 212.2,258.12 213,258.06 213.8,258.01 214.6,257.96 215.4,257.9 216.2,257.85 217,257.79 217.8,257.74 218.6,257.68 219.4,257.63 220.2,257.57 221,257.51 221.8,257.45 222.6,257.38 223.4,257.32 224.2,257.26 225,257.2 225.8,257.13 226.6,257.06 227.4,256.99 228.2,256.92 229,256.85 229.8,256.77 230.6,256.7 231.4,256.63 232.2,256.55 233,256.47 233.8,256.4 234.6,256.32 235.4,256.24 236.2,256.17 237,256.09 237.8,256.01 238.6,255.93 239.4,255.85 240.2,255.77 241,255.69 241.8,255.61 242.6,255.54 243.4,255.46 244.2,255.38 245,255.3" fill="none" stroke="#16801a" stroke-width="1.9" stroke-linejoin="round" stroke-linecap="round"/>
<polyline points="66.7,335.69 67.5,333.92 68.3,331.92 69.1,329.96 69.9,327.98 70.7,327.09 71.5,325.83 72.3,324.95 73.1,323.59 73.9,322.91 74.7,321.89 75.5,320.57 76.3,319.56 77.1,318.63 77.9,317.32 78.7,315.56 79.5,313.43 80.3,308.21 81.1,309.13 81.9,310.39 82.7,309.11 83.5,307.9 84.3,307.04 85.1,305 85.9,304.09 86.7,303.05 87.5,301.81 88.3,300.56 89.1,299.17 89.9,298.37 90.7,297.36 91.5,296.38 92.3,295.55 93.1,293.92 93.9,293.44 94.7,291.96 95.5,291.06 96.3,289.63 97.1,288.97 97.9,287.22 98.7,286.48 99.5,285.09 100.3,283.99 101.1,282.83 101.9,282.02 102.7,281.14 103.5,279.85 104.3,279.09 105.1,277.94 105.9,276.99 106.7,276.56 107.5,275.28 108.3,274.35 109.1,273.76 109.9,273.33 110.7,272.3 111.5,272.01 112.3,271.31 113.1,270.84 113.9,269.95 114.7,269.42 115.5,268.96 116.3,268.64 117.1,268.28 117.9,267.58 118.7,267.51 119.5,267.11 120.3,266.73 121.1,266.57 121.9,266.56 122.7,265.82 123.5,266.08 124.3,265.47 125.1,265.56 125.9,264.96 126.7,265.42 127.5,264.87 128.3,265.09 129.1,264.44 129.9,264.44 130.7,264.52 131.5,264.02 132.3,263.99 133.1,264.18 133.9,264.28 134.7,263.76 135.5,263.62 136.3,263.7 137.1,264.09 137.9,263.45 138.7,263.73 139.5,263.48 140.3,263.57 141.1,263.16 141.9,263.32 142.7,263.4 143.5,263.26 144.3,262.99 145.1,262.79 145.9,262.73 146.7,262.3 147.5,262.71 148.3,262.5 149.1,262.22 149.9,262.27 150.7,261.99 151.5,261.86 152.3,261.65 153.1,261.8 153.9,261.67 154.7,261.53 155.5,261.08 156.3,261.39 157.1,261.16 157.9,261.16 158.7,261.05 159.5,261.17 160.3,260.52 161.1,260.63 161.9,260.89 162.7,260.6 163.5,260.19 164.3,260.38 165.1,260.44 165.9,259.91 166.7,260.12 167.5,259.48 168.3,259.97 169.1,259.5 169.9,259.2 170.7,259.51 171.5,259.26 172.3,259.34 173.1,259.14 173.9,259 174.7,258.68 175.5,258.89 176.3,258.12 177.1,258.56 177.9,258.33 178.7,257.89 179.5,258.16 180.3,257.79 181.1,257.73 181.9,257.84 182.7,257.25 183.5,257.19 184.3,257.33 185.1,256.83 185.9,257.06 186.7,257.12 187.5,256.81 188.3,256.53 189.1,256.82 189.9,256.76 190.7,256.61 191.5,256.35 192.3,256.49 193.1,256.29 193.9,255.72 194.7,255.75 195.5,255.4 196.3,255.16 197.1,255.19 197.9,255.36 198.7,255.11 199.5,254.37 200.3,254.18 201.1,254.15 201.9,254.32 202.7,254 203.5,254.08 204.3,253.47 205.1,254.09 205.9,253.52 206.7,253.79 207.5,254 208.3,253.92 209.1,253.58 209.9,253.93 210.7,253.77 211.5,253.47 212.3,253.69 213.1,253.65 213.9,253.75 214.7,253.37 215.5,253.4 216.3,253.21 217.1,252.58 217.9,252.27 218.7,252.4 219.5,251.98 220.3,251.46 221.1,251.17 221.9,251.47 222.7,250.98 223.5,250.61 224.3,250.31 225.1,250.7 225.9,250.28 226.7,250.06 227.5,249.46 228.3,249.03 229.1,248.68 229.9,248.05 230.7,247.95 231.5,247.4 232.3,247.27 233.1,246.68 233.9,246.43 234.7,246.23 235.5,246.31 236.3,245.62 237.1,245.6 237.9,244.91 238.7,244.79 239.5,244.2 240.3,244.22 241.1,243.47 241.9,243.53 242.7,243.18 243.5,242.82 244.3,243.03 245.1,242.54 245.9,242.68" fill="none" stroke="#16801a" stroke-width="1.9" stroke-linejoin="round" stroke-linecap="round"/>
<polyline points="45,285.4 47.75,284.04 50.5,282.68 53.25,281.32 56,279.95 58.75,278.56 61.5,277.17 64.25,275.78 67,274.39 69.75,272.99 72.5,271.61 75.25,270.32 78,269.14 80.75,268.03 83.5,266.98 86.25,266.01 89,265.13 91.75,264.31 94.5,263.5 97.25,262.66 100,261.8 102.75,260.97 105.5,260.23 108.25,259.61 111,259.07 113.75,258.57 116.5,258.04 119.25,257.48 122,256.92 124.75,256.39 127.5,255.92 130.25,255.5 133,255.09 135.75,254.63 138.5,254.04 141.25,253.38 144,252.73 146.75,252.13 149.5,251.56 152.25,251.01 155,250.44 157.75,249.83 160.5,249.22 163.25,248.63 166,248.1 168.75,247.61 171.5,247.14 174.25,246.68 177,246.22 179.75,245.78 182.5,245.33 185.25,244.85 188,244.38 190.75,243.87 193.5,243.23 196.25,242.19 199,240.93 201.75,240.18 204.5,240.74 207.25,241.19 210,241 212.75,240.65 215.5,240.19 218.25,239.56 221,238.7 223.75,237.64 226.5,236.36 229.25,234.86 232,234.13 234.75,233.93 237.5,233.58 240.25,232.32 243,230.29 245.75,229.03" fill="none" stroke="#f07c7c" stroke-width="0.8" stroke-linejoin="round" stroke-linecap="round"/>
<polyline points="80.5,319.4 83.25,317.75 86,315.73 88.75,313.04 91.5,309.35 94.25,305.57 97,302.09 99.75,299.32 102.5,297.65 105.25,296.26 108,294.53 110.75,292.85 113.5,291.21 116.25,290.06 119,289.29 121.75,288.48 124.5,287.46 127.25,286.23 130,284.61 132.75,282.78 135.5,281.1 138.25,279.52 141,278.37 143.75,277.84 146.5,276.94 149.25,275.61 152,274.19 154.75,272.82 157.5,271.68 160.25,270.62 163,269.45 165.75,268.29 168.5,266.85 171.25,264.68 174,261.89 176.75,258.96 179.5,256.16 182.25,253.69 185,251.66 187.75,249.48 190.5,246.67 193.25,243.23 196,239.5 198.75,236.01 201.5,232.55 204.25,229.15 207,224.66 209.75,220.56 212.5,216.85 215.25,211.89 218,205.63 220.75,199.25 223.5,192" fill="none" stroke="#f07c7c" stroke-width="0.8" stroke-linejoin="round" stroke-linecap="round"/>
<rect x="43.75" y="284.15" width="2.5" height="2.5" fill="#fff" stroke="#f07c7c" stroke-width="0.85"/>
<rect x="46.5" y="282.79" width="2.5" height="2.5" fill="#fff" stroke="#f07c7c" stroke-width="0.85"/>
<rect x="49.25" y="281.43" width="2.5" height="2.5" fill="#fff" stroke="#f07c7c" stroke-width="0.85"/>
<rect x="52" y="280.07" width="2.5" height="2.5" fill="#fff" stroke="#f07c7c" stroke-width="0.85"/>
<rect x="54.75" y="278.7" width="2.5" height="2.5" fill="#fff" stroke="#f07c7c" stroke-width="0.85"/>
<rect x="57.5" y="277.31" width="2.5" height="2.5" fill="#fff" stroke="#f07c7c" stroke-width="0.85"/>
<rect x="60.25" y="275.92" width="2.5" height="2.5" fill="#fff" stroke="#f07c7c" stroke-width="0.85"/>
<rect x="63" y="274.53" width="2.5" height="2.5" fill="#fff" stroke="#f07c7c" stroke-width="0.85"/>
<rect x="65.75" y="273.14" width="2.5" height="2.5" fill="#fff" stroke="#f07c7c" stroke-width="0.85"/>
<rect x="68.5" y="271.74" width="2.5" height="2.5" fill="#fff" stroke="#f07c7c" stroke-width="0.85"/>
<rect x="71.25" y="270.36" width="2.5" height="2.5" fill="#fff" stroke="#f07c7c" stroke-width="0.85"/>
<rect x="74" y="269.07" width="2.5" height="2.5" fill="#fff" stroke="#f07c7c" stroke-width="0.85"/>
<rect x="76.75" y="267.89" width="2.5" height="2.5" fill="#fff" stroke="#f07c7c" stroke-width="0.85"/>
<rect x="79.5" y="266.78" width="2.5" height="2.5" fill="#fff" stroke="#f07c7c" stroke-width="0.85"/>
<rect x="82.25" y="265.73" width="2.5" height="2.5" fill="#fff" stroke="#f07c7c" stroke-width="0.85"/>
<rect x="85" y="264.76" width="2.5" height="2.5" fill="#fff" stroke="#f07c7c" stroke-width="0.85"/>
<rect x="87.75" y="263.88" width="2.5" height="2.5" fill="#fff" stroke="#f07c7c" stroke-width="0.85"/>
<rect x="90.5" y="263.06" width="2.5" height="2.5" fill="#fff" stroke="#f07c7c" stroke-width="0.85"/>
<rect x="93.25" y="262.25" width="2.5" height="2.5" fill="#fff" stroke="#f07c7c" stroke-width="0.85"/>
<rect x="96" y="261.41" width="2.5" height="2.5" fill="#fff" stroke="#f07c7c" stroke-width="0.85"/>
<rect x="98.75" y="260.55" width="2.5" height="2.5" fill="#fff" stroke="#f07c7c" stroke-width="0.85"/>
<rect x="101.5" y="259.72" width="2.5" height="2.5" fill="#fff" stroke="#f07c7c" stroke-width="0.85"/>
<rect x="104.25" y="258.98" width="2.5" height="2.5" fill="#fff" stroke="#f07c7c" stroke-width="0.85"/>
<rect x="107" y="258.36" width="2.5" height="2.5" fill="#fff" stroke="#f07c7c" stroke-width="0.85"/>
<rect x="109.75" y="257.82" width="2.5" height="2.5" fill="#fff" stroke="#f07c7c" stroke-width="0.85"/>
<rect x="112.5" y="257.32" width="2.5" height="2.5" fill="#fff" stroke="#f07c7c" stroke-width="0.85"/>
<rect x="115.25" y="256.79" width="2.5" height="2.5" fill="#fff" stroke="#f07c7c" stroke-width="0.85"/>
<rect x="118" y="256.23" width="2.5" height="2.5" fill="#fff" stroke="#f07c7c" stroke-width="0.85"/>
<rect x="120.75" y="255.67" width="2.5" height="2.5" fill="#fff" stroke="#f07c7c" stroke-width="0.85"/>
<rect x="123.5" y="255.14" width="2.5" height="2.5" fill="#fff" stroke="#f07c7c" stroke-width="0.85"/>
<rect x="126.25" y="254.67" width="2.5" height="2.5" fill="#fff" stroke="#f07c7c" stroke-width="0.85"/>
<rect x="129" y="254.25" width="2.5" height="2.5" fill="#fff" stroke="#f07c7c" stroke-width="0.85"/>
<rect x="131.75" y="253.84" width="2.5" height="2.5" fill="#fff" stroke="#f07c7c" stroke-width="0.85"/>
<rect x="134.5" y="253.38" width="2.5" height="2.5" fill="#fff" stroke="#f07c7c" stroke-width="0.85"/>
<rect x="137.25" y="252.79" width="2.5" height="2.5" fill="#fff" stroke="#f07c7c" stroke-width="0.85"/>
<rect x="140" y="252.13" width="2.5" height="2.5" fill="#fff" stroke="#f07c7c" stroke-width="0.85"/>
<rect x="142.75" y="251.48" width="2.5" height="2.5" fill="#fff" stroke="#f07c7c" stroke-width="0.85"/>
<rect x="145.5" y="250.88" width="2.5" height="2.5" fill="#fff" stroke="#f07c7c" stroke-width="0.85"/>
<rect x="148.25" y="250.31" width="2.5" height="2.5" fill="#fff" stroke="#f07c7c" stroke-width="0.85"/>
<rect x="151" y="249.76" width="2.5" height="2.5" fill="#fff" stroke="#f07c7c" stroke-width="0.85"/>
<rect x="153.75" y="249.19" width="2.5" height="2.5" fill="#fff" stroke="#f07c7c" stroke-width="0.85"/>
<rect x="156.5" y="248.58" width="2.5" height="2.5" fill="#fff" stroke="#f07c7c" stroke-width="0.85"/>
<rect x="159.25" y="247.97" width="2.5" height="2.5" fill="#fff" stroke="#f07c7c" stroke-width="0.85"/>
<rect x="162" y="247.38" width="2.5" height="2.5" fill="#fff" stroke="#f07c7c" stroke-width="0.85"/>
<rect x="164.75" y="246.85" width="2.5" height="2.5" fill="#fff" stroke="#f07c7c" stroke-width="0.85"/>
<rect x="167.5" y="246.36" width="2.5" height="2.5" fill="#fff" stroke="#f07c7c" stroke-width="0.85"/>
<rect x="170.25" y="245.89" width="2.5" height="2.5" fill="#fff" stroke="#f07c7c" stroke-width="0.85"/>
<rect x="173" y="245.43" width="2.5" height="2.5" fill="#fff" stroke="#f07c7c" stroke-width="0.85"/>
<rect x="175.75" y="244.97" width="2.5" height="2.5" fill="#fff" stroke="#f07c7c" stroke-width="0.85"/>
<rect x="178.5" y="244.53" width="2.5" height="2.5" fill="#fff" stroke="#f07c7c" stroke-width="0.85"/>
<rect x="181.25" y="244.08" width="2.5" height="2.5" fill="#fff" stroke="#f07c7c" stroke-width="0.85"/>
<rect x="184" y="243.6" width="2.5" height="2.5" fill="#fff" stroke="#f07c7c" stroke-width="0.85"/>
<rect x="186.75" y="243.13" width="2.5" height="2.5" fill="#fff" stroke="#f07c7c" stroke-width="0.85"/>
<rect x="189.5" y="242.62" width="2.5" height="2.5" fill="#fff" stroke="#f07c7c" stroke-width="0.85"/>
<rect x="192.25" y="241.98" width="2.5" height="2.5" fill="#fff" stroke="#f07c7c" stroke-width="0.85"/>
<rect x="195" y="240.94" width="2.5" height="2.5" fill="#fff" stroke="#f07c7c" stroke-width="0.85"/>
<rect x="197.75" y="239.68" width="2.5" height="2.5" fill="#fff" stroke="#f07c7c" stroke-width="0.85"/>
<rect x="200.5" y="238.93" width="2.5" height="2.5" fill="#fff" stroke="#f07c7c" stroke-width="0.85"/>
<rect x="203.25" y="239.49" width="2.5" height="2.5" fill="#fff" stroke="#f07c7c" stroke-width="0.85"/>
<rect x="206" y="239.94" width="2.5" height="2.5" fill="#fff" stroke="#f07c7c" stroke-width="0.85"/>
<rect x="208.75" y="239.75" width="2.5" height="2.5" fill="#fff" stroke="#f07c7c" stroke-width="0.85"/>
<rect x="211.5" y="239.4" width="2.5" height="2.5" fill="#fff" stroke="#f07c7c" stroke-width="0.85"/>
<rect x="214.25" y="238.94" width="2.5" height="2.5" fill="#fff" stroke="#f07c7c" stroke-width="0.85"/>
<rect x="217" y="238.31" width="2.5" height="2.5" fill="#fff" stroke="#f07c7c" stroke-width="0.85"/>
<rect x="219.75" y="237.45" width="2.5" height="2.5" fill="#fff" stroke="#f07c7c" stroke-width="0.85"/>
<rect x="222.5" y="236.39" width="2.5" height="2.5" fill="#fff" stroke="#f07c7c" stroke-width="0.85"/>
<rect x="225.25" y="235.11" width="2.5" height="2.5" fill="#fff" stroke="#f07c7c" stroke-width="0.85"/>
<rect x="228" y="233.61" width="2.5" height="2.5" fill="#fff" stroke="#f07c7c" stroke-width="0.85"/>
<rect x="230.75" y="232.88" width="2.5" height="2.5" fill="#fff" stroke="#f07c7c" stroke-width="0.85"/>
<rect x="233.5" y="232.68" width="2.5" height="2.5" fill="#fff" stroke="#f07c7c" stroke-width="0.85"/>
<rect x="236.25" y="232.33" width="2.5" height="2.5" fill="#fff" stroke="#f07c7c" stroke-width="0.85"/>
<rect x="239" y="231.07" width="2.5" height="2.5" fill="#fff" stroke="#f07c7c" stroke-width="0.85"/>
<rect x="241.75" y="229.04" width="2.5" height="2.5" fill="#fff" stroke="#f07c7c" stroke-width="0.85"/>
<rect x="244.5" y="227.78" width="2.5" height="2.5" fill="#fff" stroke="#f07c7c" stroke-width="0.85"/>
<rect x="79.25" y="318.15" width="2.5" height="2.5" fill="#fff" stroke="#f07c7c" stroke-width="0.85"/>
<rect x="82" y="316.5" width="2.5" height="2.5" fill="#fff" stroke="#f07c7c" stroke-width="0.85"/>
<rect x="84.75" y="314.48" width="2.5" height="2.5" fill="#fff" stroke="#f07c7c" stroke-width="0.85"/>
<rect x="87.5" y="311.79" width="2.5" height="2.5" fill="#fff" stroke="#f07c7c" stroke-width="0.85"/>
<rect x="90.25" y="308.1" width="2.5" height="2.5" fill="#fff" stroke="#f07c7c" stroke-width="0.85"/>
<rect x="93" y="304.32" width="2.5" height="2.5" fill="#fff" stroke="#f07c7c" stroke-width="0.85"/>
<rect x="95.75" y="300.84" width="2.5" height="2.5" fill="#fff" stroke="#f07c7c" stroke-width="0.85"/>
<rect x="98.5" y="298.07" width="2.5" height="2.5" fill="#fff" stroke="#f07c7c" stroke-width="0.85"/>
<rect x="101.25" y="296.4" width="2.5" height="2.5" fill="#fff" stroke="#f07c7c" stroke-width="0.85"/>
<rect x="104" y="295.01" width="2.5" height="2.5" fill="#fff" stroke="#f07c7c" stroke-width="0.85"/>
<rect x="106.75" y="293.28" width="2.5" height="2.5" fill="#fff" stroke="#f07c7c" stroke-width="0.85"/>
<rect x="109.5" y="291.6" width="2.5" height="2.5" fill="#fff" stroke="#f07c7c" stroke-width="0.85"/>
<rect x="112.25" y="289.96" width="2.5" height="2.5" fill="#fff" stroke="#f07c7c" stroke-width="0.85"/>
<rect x="115" y="288.81" width="2.5" height="2.5" fill="#fff" stroke="#f07c7c" stroke-width="0.85"/>
<rect x="117.75" y="288.04" width="2.5" height="2.5" fill="#fff" stroke="#f07c7c" stroke-width="0.85"/>
<rect x="120.5" y="287.23" width="2.5" height="2.5" fill="#fff" stroke="#f07c7c" stroke-width="0.85"/>
<rect x="123.25" y="286.21" width="2.5" height="2.5" fill="#fff" stroke="#f07c7c" stroke-width="0.85"/>
<rect x="126" y="284.98" width="2.5" height="2.5" fill="#fff" stroke="#f07c7c" stroke-width="0.85"/>
<rect x="128.75" y="283.36" width="2.5" height="2.5" fill="#fff" stroke="#f07c7c" stroke-width="0.85"/>
<rect x="131.5" y="281.53" width="2.5" height="2.5" fill="#fff" stroke="#f07c7c" stroke-width="0.85"/>
<rect x="134.25" y="279.85" width="2.5" height="2.5" fill="#fff" stroke="#f07c7c" stroke-width="0.85"/>
<rect x="137" y="278.27" width="2.5" height="2.5" fill="#fff" stroke="#f07c7c" stroke-width="0.85"/>
<rect x="139.75" y="277.12" width="2.5" height="2.5" fill="#fff" stroke="#f07c7c" stroke-width="0.85"/>
<rect x="142.5" y="276.59" width="2.5" height="2.5" fill="#fff" stroke="#f07c7c" stroke-width="0.85"/>
<rect x="145.25" y="275.69" width="2.5" height="2.5" fill="#fff" stroke="#f07c7c" stroke-width="0.85"/>
<rect x="148" y="274.36" width="2.5" height="2.5" fill="#fff" stroke="#f07c7c" stroke-width="0.85"/>
<rect x="150.75" y="272.94" width="2.5" height="2.5" fill="#fff" stroke="#f07c7c" stroke-width="0.85"/>
<rect x="153.5" y="271.57" width="2.5" height="2.5" fill="#fff" stroke="#f07c7c" stroke-width="0.85"/>
<rect x="156.25" y="270.43" width="2.5" height="2.5" fill="#fff" stroke="#f07c7c" stroke-width="0.85"/>
<rect x="159" y="269.37" width="2.5" height="2.5" fill="#fff" stroke="#f07c7c" stroke-width="0.85"/>
<rect x="161.75" y="268.2" width="2.5" height="2.5" fill="#fff" stroke="#f07c7c" stroke-width="0.85"/>
<rect x="164.5" y="267.04" width="2.5" height="2.5" fill="#fff" stroke="#f07c7c" stroke-width="0.85"/>
<rect x="167.25" y="265.6" width="2.5" height="2.5" fill="#fff" stroke="#f07c7c" stroke-width="0.85"/>
<rect x="170" y="263.43" width="2.5" height="2.5" fill="#fff" stroke="#f07c7c" stroke-width="0.85"/>
<rect x="172.75" y="260.64" width="2.5" height="2.5" fill="#fff" stroke="#f07c7c" stroke-width="0.85"/>
<rect x="175.5" y="257.71" width="2.5" height="2.5" fill="#fff" stroke="#f07c7c" stroke-width="0.85"/>
<rect x="178.25" y="254.91" width="2.5" height="2.5" fill="#fff" stroke="#f07c7c" stroke-width="0.85"/>
<rect x="181" y="252.44" width="2.5" height="2.5" fill="#fff" stroke="#f07c7c" stroke-width="0.85"/>
<rect x="183.75" y="250.41" width="2.5" height="2.5" fill="#fff" stroke="#f07c7c" stroke-width="0.85"/>
<rect x="186.5" y="248.23" width="2.5" height="2.5" fill="#fff" stroke="#f07c7c" stroke-width="0.85"/>
<rect x="189.25" y="245.42" width="2.5" height="2.5" fill="#fff" stroke="#f07c7c" stroke-width="0.85"/>
<rect x="192" y="241.98" width="2.5" height="2.5" fill="#fff" stroke="#f07c7c" stroke-width="0.85"/>
<rect x="194.75" y="238.25" width="2.5" height="2.5" fill="#fff" stroke="#f07c7c" stroke-width="0.85"/>
<rect x="197.5" y="234.76" width="2.5" height="2.5" fill="#fff" stroke="#f07c7c" stroke-width="0.85"/>
<rect x="200.25" y="231.3" width="2.5" height="2.5" fill="#fff" stroke="#f07c7c" stroke-width="0.85"/>
<rect x="203" y="227.9" width="2.5" height="2.5" fill="#fff" stroke="#f07c7c" stroke-width="0.85"/>
<rect x="205.75" y="223.41" width="2.5" height="2.5" fill="#fff" stroke="#f07c7c" stroke-width="0.85"/>
<rect x="208.5" y="219.31" width="2.5" height="2.5" fill="#fff" stroke="#f07c7c" stroke-width="0.85"/>
<rect x="211.25" y="215.6" width="2.5" height="2.5" fill="#fff" stroke="#f07c7c" stroke-width="0.85"/>
<rect x="214" y="210.64" width="2.5" height="2.5" fill="#fff" stroke="#f07c7c" stroke-width="0.85"/>
<rect x="216.75" y="204.38" width="2.5" height="2.5" fill="#fff" stroke="#f07c7c" stroke-width="0.85"/>
<rect x="219.5" y="198" width="2.5" height="2.5" fill="#fff" stroke="#f07c7c" stroke-width="0.85"/>
<rect x="222.25" y="190.75" width="2.5" height="2.5" fill="#fff" stroke="#f07c7c" stroke-width="0.85"/>
<polyline points="77,334 77.96,332.61 79.32,330.62 80.9,328.4 82.5,326.3 84.13,324.36 85.86,322.41 87.64,320.5 89.4,318.7 91.12,317.04 92.85,315.47 94.58,313.97 96.3,312.5 98.03,311.06 99.76,309.66 101.48,308.31 103.2,307 104.92,305.72 106.64,304.49 108.34,303.31 110,302.2 111.6,301.23 113.16,300.36 114.71,299.49 116.3,298.5 117.93,297.35 119.57,296.11 121.25,294.82 123,293.5 124.89,292.11 126.88,290.66 128.83,289.25 130.6,288 132.14,286.97 133.52,286.08 134.8,285.28 136,284.5 137.05,283.79 137.97,283.16 138.9,282.5 140,281.7 141.34,280.69 142.82,279.55 144.37,278.36 145.9,277.2 147.4,276.13 148.9,275.09 150.4,274 151.9,272.8 153.42,271.43 154.95,269.95 156.43,268.42 157.8,266.9 159.01,265.49 160.1,264.12 161.14,262.64 162.2,260.9 163.31,258.74 164.43,256.29 165.51,253.8 166.5,251.5 167.39,249.46 168.2,247.54 168.94,245.73 169.6,244 170.14,242.49 170.58,241.16 171,239.75 171.5,238 172.11,235.73 172.77,233.12 173.45,230.45 174.1,228 174.71,225.86 175.31,223.88 175.9,221.95 176.5,220 177.11,218.05 177.71,216.12 178.34,214.14 179,212 179.7,209.66 180.44,207.19 181.2,204.62 182,202 182.9,199.13 183.88,196.06 184.79,193.21 185.5,191 185.95,189.62 186.22,188.81 186.38,188.35 186.5,188" fill="none" stroke="#1212dc" stroke-width="1.7" stroke-linejoin="round" stroke-linecap="round" stroke-dasharray="6,2,1.6,2"/>
<polyline points="130.8,336 130.79,328.92 130.78,318.62 130.78,308.02 130.8,300 130.85,295.55 130.92,293.04 131,291.51 131.1,290 131.19,288.56 131.29,287.61 131.42,286.7 131.6,285.4 131.84,283.55 132.12,281.39 132.44,279.12 132.8,276.9 133.19,274.77 133.62,272.65 134.09,270.52 134.6,268.4 135.16,266.19 135.76,263.92 136.39,261.77 137,259.9 137.6,258.4 138.21,257.16 138.81,256.06 139.4,255 139.97,253.93 140.51,252.92 141.08,252 141.7,251.2 142.27,250.58 142.81,250.11 143.55,249.69 144.7,249.2 146.25,248.68 148.11,248.16 150.39,247.56 153.2,246.8 156.78,245.82 161.01,244.67 165.43,243.46 169.6,242.3 173.41,241.21 177.09,240.14 180.73,239.08 184.4,238 187.92,236.97 191.31,235.96 194.98,234.88 199.3,233.6 204.61,232.03 210.63,230.26 216.83,228.43 222.7,226.7 228.49,225 234.34,223.28 239.58,221.75 243.5,220.6 245.67,219.97 246.55,219.72 246.78,219.66 247,219.6" fill="none" stroke="#1212dc" stroke-width="1.7" stroke-linejoin="round" stroke-linecap="round" stroke-dasharray="6,2,1.6,2"/>
</g>
<rect x="45.2" y="192.5" width="200.3" height="142.7" fill="none" stroke="#000" stroke-width="2.3"/>
<line x1="45.2" y1="335.2" x2="48.4" y2="335.2" stroke="#000" stroke-width="1.3"/>
<line x1="45.2" y1="328.07" x2="47" y2="328.07" stroke="#000" stroke-width="1.3"/>
<line x1="45.2" y1="320.93" x2="47" y2="320.93" stroke="#000" stroke-width="1.3"/>
<line x1="45.2" y1="313.8" x2="47" y2="313.8" stroke="#000" stroke-width="1.3"/>
<line x1="45.2" y1="306.66" x2="47" y2="306.66" stroke="#000" stroke-width="1.3"/>
<line x1="45.2" y1="299.53" x2="48.4" y2="299.53" stroke="#000" stroke-width="1.3"/>
<line x1="45.2" y1="292.39" x2="47" y2="292.39" stroke="#000" stroke-width="1.3"/>
<line x1="45.2" y1="285.26" x2="47" y2="285.26" stroke="#000" stroke-width="1.3"/>
<line x1="45.2" y1="278.12" x2="47" y2="278.12" stroke="#000" stroke-width="1.3"/>
<line x1="45.2" y1="270.99" x2="47" y2="270.99" stroke="#000" stroke-width="1.3"/>
<line x1="45.2" y1="263.85" x2="48.4" y2="263.85" stroke="#000" stroke-width="1.3"/>
<line x1="45.2" y1="256.71" x2="47" y2="256.71" stroke="#000" stroke-width="1.3"/>
<line x1="45.2" y1="249.58" x2="47" y2="249.58" stroke="#000" stroke-width="1.3"/>
<line x1="45.2" y1="242.44" x2="47" y2="242.44" stroke="#000" stroke-width="1.3"/>
<line x1="45.2" y1="235.31" x2="47" y2="235.31" stroke="#000" stroke-width="1.3"/>
<line x1="45.2" y1="228.17" x2="48.4" y2="228.17" stroke="#000" stroke-width="1.3"/>
<line x1="45.2" y1="221.04" x2="47" y2="221.04" stroke="#000" stroke-width="1.3"/>
<line x1="45.2" y1="213.9" x2="47" y2="213.9" stroke="#000" stroke-width="1.3"/>
<line x1="45.2" y1="206.77" x2="47" y2="206.77" stroke="#000" stroke-width="1.3"/>
<line x1="45.2" y1="199.63" x2="47" y2="199.63" stroke="#000" stroke-width="1.3"/>
<line x1="45.2" y1="192.5" x2="48.4" y2="192.5" stroke="#000" stroke-width="1.3"/>
<line x1="61.9" y1="335.2" x2="61.9" y2="333.4" stroke="#000" stroke-width="1.4"/>
<line x1="78.59" y1="335.2" x2="78.59" y2="332" stroke="#000" stroke-width="1.4"/>
<line x1="95.28" y1="335.2" x2="95.28" y2="333.4" stroke="#000" stroke-width="1.4"/>
<line x1="111.97" y1="335.2" x2="111.97" y2="332" stroke="#000" stroke-width="1.4"/>
<line x1="128.66" y1="335.2" x2="128.66" y2="333.4" stroke="#000" stroke-width="1.4"/>
<line x1="145.35" y1="335.2" x2="145.35" y2="332" stroke="#000" stroke-width="1.4"/>
<line x1="162.04" y1="335.2" x2="162.04" y2="333.4" stroke="#000" stroke-width="1.4"/>
<line x1="178.73" y1="335.2" x2="178.73" y2="332" stroke="#000" stroke-width="1.4"/>
<line x1="195.42" y1="335.2" x2="195.42" y2="333.4" stroke="#000" stroke-width="1.4"/>
<line x1="212.11" y1="335.2" x2="212.11" y2="332" stroke="#000" stroke-width="1.4"/>
<line x1="228.8" y1="335.2" x2="228.8" y2="333.4" stroke="#000" stroke-width="1.4"/>
<text x="40.8" y="196" font-size="11.2" text-anchor="end" fill="#000" font-weight="bold" stroke="#000" stroke-width="0.25">0.8</text>
<text x="40.8" y="231.67" font-size="11.2" text-anchor="end" fill="#000" font-weight="bold" stroke="#000" stroke-width="0.25">0.4</text>
<text x="40.8" y="267.35" font-size="11.2" text-anchor="end" fill="#000" font-weight="bold" stroke="#000" stroke-width="0.25">0.0</text>
<text x="40.8" y="303.03" font-size="11.2" text-anchor="end" fill="#000" font-weight="bold" stroke="#000" stroke-width="0.25">-0.4</text>
<text x="40.8" y="338.7" font-size="11.2" text-anchor="end" fill="#000" font-weight="bold" stroke="#000" stroke-width="0.25">-0.8</text>
<text x="44.01" y="348.7" font-size="11.2" text-anchor="middle" fill="#000" font-weight="bold" stroke="#000" stroke-width="0.25">-6</text>
<text x="77.39" y="348.7" font-size="11.2" text-anchor="middle" fill="#000" font-weight="bold" stroke="#000" stroke-width="0.25">-4</text>
<text x="110.77" y="348.7" font-size="11.2" text-anchor="middle" fill="#000" font-weight="bold" stroke="#000" stroke-width="0.25">-2</text>
<text x="145.35" y="348.7" font-size="11.2" text-anchor="middle" fill="#000" font-weight="bold" stroke="#000" stroke-width="0.25">0</text>
<text x="178.73" y="348.7" font-size="11.2" text-anchor="middle" fill="#000" font-weight="bold" stroke="#000" stroke-width="0.25">2</text>
<text x="212.11" y="348.7" font-size="11.2" text-anchor="middle" fill="#000" font-weight="bold" stroke="#000" stroke-width="0.25">4</text>
<text x="245.49" y="348.7" font-size="11.2" text-anchor="middle" fill="#000" font-weight="bold" stroke="#000" stroke-width="0.25">6</text>
<text x="145.4" y="366.7" font-size="12.7" text-anchor="middle" fill="#000" font-weight="bold" stroke="#000" stroke-width="0.25">Voltage (V)</text>
<text x="13.3" y="255.3" font-size="12.75" font-weight="bold" text-anchor="middle" transform="rotate(-90 13.3 255.3)" stroke="#000" stroke-width="0.25">Current density (<tspan font-weight="normal">μ</tspan>A/cm<tspan font-size="8" dy="-6">2</tspan><tspan dy="6">)</tspan></text>
<text x="1" y="179.5" font-size="15" text-anchor="start" fill="#000" font-weight="bold" stroke="#000" stroke-width="0.25">(c)</text>
<line x1="53.2" y1="202.6" x2="73.3" y2="202.6" stroke="#16801a" stroke-width="2.0"/>
<text x="75.3" y="205.7" font-size="8.4" fill="#16801a" font-weight="bold" text-anchor="start" stroke="#16801a" stroke-width="0.25">Ag<tspan font-size="4.7" dy="2.2">2</tspan><tspan dy="-2.2">O 0%</tspan></text>
<line x1="53.2" y1="215.9" x2="73.3" y2="215.9" stroke="#f07c7c" stroke-width="0.9"/>
<rect x="62.95" y="214.65" width="2.5" height="2.5" fill="#fff" stroke="#f07c7c" stroke-width="0.85"/>
<text x="75.3" y="219" font-size="8.4" fill="#e8161b" font-weight="bold" text-anchor="start" stroke="#e8161b" stroke-width="0.25">Ag<tspan font-size="4.7" dy="2.2">2</tspan><tspan dy="-2.2">O 3%</tspan></text>
<line x1="53.2" y1="228.4" x2="73.3" y2="228.4" stroke="#1212dc" stroke-width="1.5" stroke-dasharray="6,2,1.6,2"/>
<text x="75.3" y="231.5" font-size="8.4" fill="#1212dc" font-weight="bold" text-anchor="start" stroke="#1212dc" stroke-width="0.25">Ag<tspan font-size="4.7" dy="2.2">2</tspan><tspan dy="-2.2">O 5%</tspan></text>
<g clip-path="url(#clipd)">
<polyline points="306.6,300.04 306.86,307.25 307.11,309.37 307.37,309.07 307.63,307.14 307.89,314.39 308.14,308.89 308.4,308.89 308.66,303.62 308.92,305.82 309.17,303.18 309.43,316.02 309.69,302.84 309.94,306.87 310.2,301.02 310.46,310.71 310.72,305.48 310.97,301.58 311.23,299.83 311.49,306.97 311.75,303.2 312,304.43 312.26,308.58 312.52,317.1 312.77,307.23 313.03,305.38 313.29,306.53 313.55,301.56 313.8,306.47 314.06,305.48 314.32,302 314.58,302.17 314.83,302.82 315.09,297.96 315.35,306.97 315.6,292.53 315.86,308.69 316.12,300.08 316.38,304.59 316.63,296.52 316.89,306.78 317.15,307.84 317.41,307.67 317.66,304.11 317.92,325.77 318.18,302.4 318.43,308.47 318.69,313.39 318.95,306.18 319.21,315.17 319.46,300.03 319.72,307.41 319.98,303.27 320.24,296.7 320.49,308.66 320.75,307.45 321.01,297.22 321.26,313.17 321.52,303.47 321.78,315.21 322.04,309.85 322.29,307.01 322.55,297.5 322.81,309.94 323.06,307.62 323.32,298.86 323.58,298.37 323.84,304.46 324.09,315.19 324.35,310.58 324.61,297.32 324.87,300.16 325.12,303.7 325.38,266.15 325.64,270.62 325.89,272.5 326.15,268.52 326.41,271.4 326.67,274.48 326.92,273.91 327.18,274.02 327.44,270.68 327.7,266.76 327.95,265.22 328.21,271.95 328.47,269.15 328.72,269.97 328.98,264.27 329.24,265.04 329.5,265.45 329.75,266.45 330.01,269.63 330.27,272.09 330.53,268.74 330.78,270.47 331.04,277.41 331.3,263.8 331.55,266 331.81,268.62 332.07,267.56 332.33,262.02 332.58,266.56 332.84,268.19 333.1,266.6 333.36,266.43 333.61,270.28 333.87,267.16 334.13,263.8 334.38,266.55 334.64,264.74 334.9,263.54 335.16,261.32 335.41,267.42 335.67,263.11 335.93,265.8 336.19,260.56 336.44,265.16 336.7,261.77 336.96,262.32 337.21,265.45 337.47,269.88 337.73,262.82 337.99,261.89 338.24,267.43 338.5,261.87 338.76,262.03 339.02,264.6 339.27,262.79 339.53,262.84 339.79,263.68 340.04,260.63 340.3,262.96 340.56,264.65 340.82,262.07 341.07,259.52 341.33,260.41 341.59,260.72 341.85,260.53 342.1,264.91 342.36,261.52 342.62,260.99 342.87,259.83 343.13,259.82 343.39,260.37 343.65,259.44 343.9,308.29 344.16,315.34 344.42,314.3 344.68,314.99 344.93,308.06 345.19,316.03 345.45,315.21 345.7,321.32 345.96,314.02 346.22,319.52 346.48,320.39 346.73,320.88 346.99,319.86 347.25,312.26 347.51,309.62 347.76,316.08 348.02,313.82 348.28,314.26 348.53,313.7 348.79,314.3 349.05,313 349.31,309.62 349.56,312.57 349.82,314.52 350.08,312.42 350.34,318.29 350.59,318.34 350.85,314.48 351.11,315.99 351.36,318.68 351.62,308.9 351.88,312.52 352.14,310.41 352.39,317.28 352.65,315.5 352.91,316.64 353.16,311.96 353.42,307.68 353.68,314.18 353.94,316.45 354.19,314.6 354.45,311.51 354.71,311.83 354.97,313.26 355.22,313.41 355.48,319.17 355.74,312.86 355.99,311.24 356.25,311.41 356.51,312.27 356.77,310.81 357.02,311.83 357.28,315.41 357.54,307.24 357.8,310.96 358.05,313.45 358.31,307.55 358.57,308.99 358.82,314.5 359.08,311.66 359.34,307.92 359.6,313.78 359.85,310.69 360.11,302.41 360.37,304.99 360.63,310.3 360.88,316.41 361.14,309.1 361.4,310.53 361.65,312.54 361.91,312.59 362.17,306.53 362.43,309.87 362.68,306.53 362.94,315.27 363.2,305.55 363.46,309.29 363.71,243.16 363.97,244.5 364.23,242.29 364.48,244.15 364.74,243.51 365,244.87 365.26,243.56 365.51,245.36 365.77,245.27 366.03,243.55 366.29,241.65 366.54,241.27 366.8,244.21 367.06,241.92 367.31,242.21 367.57,244.8 367.83,244.43 368.09,243.59 368.34,243.99 368.6,245.88 368.86,244.99 369.12,245.39 369.37,243.6 369.63,244.55 369.89,240.9 370.14,247.36 370.4,245.01 370.66,245.62 370.92,245.42 371.17,246.92 371.43,243.36 371.69,243.79 371.95,246.13 372.2,242.09 372.46,245.96 372.72,245.07 372.97,245.72 373.23,245.1 373.49,246.16 373.75,243.25 374,245.64 374.26,244.92 374.52,245.19 374.78,245.17 375.03,245.37 375.29,245.05 375.55,242.84 375.8,246.24 376.06,246.74 376.32,245.36 376.58,245.62 376.83,244.43 377.09,245.22 377.35,243.48 377.61,243.41 377.86,246.34 378.12,246.09 378.38,246.87 378.63,246.7 378.89,244.25 379.15,246.51 379.41,243.66 379.66,244.3 379.92,243.94 380.18,245.45 380.44,244.33 380.69,245.35 380.95,246.09 381.21,244.21 381.46,247.07 381.72,244.6 381.98,243.52 382.24,243.93 382.49,315.71 382.75,303.68 383.01,309.17 383.26,311.42 383.52,309.25 383.78,311.44 384.04,314.53 384.29,310.21 384.55,310.61 384.81,308.48 385.07,312.89 385.32,316.76 385.58,310.53 385.84,310.83 386.09,311.27 386.35,306.07 386.61,314.75 386.87,314.58 387.12,319.19 387.38,315.12 387.64,310.57 387.9,311.1 388.15,309.83 388.41,315.43 388.67,318.41 388.92,310.51 389.18,310.36 389.44,319.19 389.7,316.26 389.95,314.76 390.21,312.58 390.47,318.49 390.73,317.74 390.98,314.44 391.24,317.98 391.5,315.28 391.75,314.31 392.01,311.29 392.27,317.39 392.53,311.35 392.78,313.36 393.04,306.21 393.3,313.44 393.56,313.35 393.81,320.72 394.07,295.62 394.33,309.89 394.58,310.14 394.84,316.28 395.1,305.42 395.36,315.37 395.61,313.06 395.87,306.68 396.13,313.73 396.39,309.41 396.64,300.25 396.9,311.69 397.16,307.22 397.41,310.97 397.67,311.2 397.93,308.77 398.19,308.95 398.44,313.2 398.7,243.53 398.96,241.89 399.22,243.98 399.47,241.83 399.73,244.54 399.99,244.27 400.24,240.45 400.5,244.55 400.76,243.59 401.02,242.43 401.27,244.23 401.53,242.5 401.79,244.49 402.05,242.31 402.3,244.18 402.56,244.56 402.82,243.52 403.07,241.74 403.33,243.34 403.59,241.89 403.85,242.57 404.1,244.82 404.36,244.27 404.62,243.4 404.88,244.22 405.13,244.43 405.39,244.94 405.65,245.07 405.9,244.27 406.16,243.79 406.42,245.01 406.68,243.47 406.93,245.3 407.19,245.38 407.45,243.87 407.71,246.4 407.96,244.94 408.22,245.08 408.48,246.24 408.73,245.07 408.99,246.76 409.25,244.76 409.51,245.35 409.76,243.1 410.02,243.5 410.28,244.5 410.54,241.19 410.79,245.74 411.05,245.21 411.31,242.7 411.56,245.07 411.82,242.28 412.08,246.39 412.34,245.43 412.59,243.74 412.85,296.69 413.11,296.82 413.36,300.8 413.62,294.81 413.88,298.82 414.14,299.22 414.39,296.24 414.65,300.92 414.91,298.81 415.17,297.63 415.42,298.47 415.68,298.42 415.94,298.42 416.19,298.94 416.45,299.35 416.71,297.89 416.97,300.55 417.22,300.01 417.48,299.67 417.74,298.69 418,297.91 418.25,299.75 418.51,295.56 418.77,298 419.02,304.41 419.28,295.75 419.54,295.53 419.8,296.47 420.05,301.35 420.31,299.57 420.57,299.75 420.83,301.16 421.08,298.34 421.34,300.24 421.6,302.06 421.85,296.48 422.11,296.96 422.37,299.77 422.63,300.42 422.88,296.35 423.14,297.95 423.4,298.79 423.66,299.32 423.91,303.26 424.17,300.62 424.43,302.03 424.68,299.48 424.94,300.75 425.2,297.03 425.46,297.07 425.71,306 425.97,297.67 426.23,299.49 426.49,297 426.74,298.61 427,297.27 427.26,295.34 427.51,298.3 427.77,297.22 428.03,298.67 428.29,295.84 428.54,297.73 428.8,298.89 429.06,298.83 429.32,299.81 429.57,298.47 429.83,299.95 430.09,295.04 430.34,295.77 430.6,293.7 430.86,298.4 431.12,295.96 431.37,294 431.63,298.48 431.89,296.32 432.15,297.7 432.4,294.64 432.66,296.59 432.92,296.01 433.17,291.67 433.43,297.37 433.69,295.46 433.95,295.94 434.2,297.34 434.46,297.39 434.72,294.33 434.98,297.71 435.23,296.94 435.49,300.88 435.75,240.23 436,239.91 436.26,240.9 436.52,240.53 436.78,242.79 437.03,242.24 437.29,237.92 437.55,243.38 437.81,241.25 438.06,243.45 438.32,239.34 438.58,241.9 438.83,240.94 439.09,239.45 439.35,238.41 439.61,238.09 439.86,238.27 440.12,240.57 440.38,240.27 440.64,238.92 440.89,239.3 441.15,239.27 441.41,239.55 441.66,239.64 441.92,238.35 442.18,238.75 442.44,237.74 442.69,237.31 442.95,240.14 443.21,239.94 443.46,240.59 443.72,237.66 443.98,241.1 444.24,237.81 444.49,238.79 444.75,238.98 445.01,237.38 445.27,240.09 445.52,239.06 445.78,238.44 446.04,238.37 446.29,238.18 446.55,239.87 446.81,237.5 447.07,237.56 447.32,237.46 447.58,239.71 447.84,240.52 448.1,239.05 448.35,236.33 448.61,241.32 448.87,240.05 449.12,241.23 449.38,237.48 449.64,240.32 449.9,238.52 450.15,238.46 450.41,238.78 450.67,240.17 450.93,241.1 451.18,240.06 451.44,239.71 451.7,240.05 451.95,238.63 452.21,238.33 452.47,238.89 452.73,238.38 452.98,239.82 453.24,239.51 453.5,240.08 453.76,240.07 454.01,239.69 454.27,241.47 454.53,239.9 454.78,238.06 455.04,238.65 455.3,238.22 455.56,239.46 455.81,239.23 456.07,240.02 456.33,239.86 456.59,238.78 456.84,237.47 457.1,240.61 457.36,306.23 457.61,301.1 457.87,303.49 458.13,302.84 458.39,308.05 458.64,304.1 458.9,308.96 459.16,305.52 459.42,307.66 459.67,306.48 459.93,304.81 460.19,301.39 460.44,304.63 460.7,308.45 460.96,302.74 461.22,305.9 461.47,308.44 461.73,305.31 461.99,308.59 462.25,309.1 462.5,305.51 462.76,307.17 463.02,307.27 463.27,308.04 463.53,308.59 463.79,304.99 464.05,307.88 464.3,306.34 464.56,305.81 464.82,308.75 465.08,309.16 465.33,307.4 465.59,305.93 465.85,306.83 466.1,307.31 466.36,307.67 466.62,306.71 466.88,302.15 467.13,307.66 467.39,308.08 467.65,306.86 467.91,307.64 468.16,309.18 468.42,304.35 468.68,306.78 468.93,303.94 469.19,307.71 469.45,307.05 469.71,306.51 469.96,305.72 470.22,305.87 470.48,305.7 470.74,303.07 470.99,307.32 471.25,306.94 471.51,304.7 471.76,306.71 472.02,307.01 472.28,305.64 472.54,308.43 472.79,305.61 473.05,307.11 473.31,305.28 473.56,307.34 473.82,306.89 474.08,305.17 474.34,306.51 474.59,304.31 474.85,301.91 475.11,308.52 475.37,317.85 475.62,305.41 475.88,306.51 476.14,304.63 476.39,302.69 476.65,305.37 476.91,307.59 477.17,312.13 477.42,307.37 477.68,304.65 477.94,303.91 478.2,309.76 478.45,310.65 478.71,240.04 478.97,239.54 479.22,237.12 479.48,238.96 479.74,239.54 480,239.2 480.25,240.47 480.51,238.19 480.77,238.12 481.03,239.57 481.28,241.65 481.54,238.73 481.8,238.55 482.05,235.62 482.31,238.23 482.57,238.62 482.83,238.85 483.08,236.01 483.34,238.05 483.6,237.86 483.86,240.81 484.11,236.36 484.37,239.06 484.63,236.55 484.88,235.86 485.14,235.3 485.4,238.83 485.66,239.3 485.91,237.85 486.17,235.3 486.43,240.29 486.69,238.25 486.94,236.61 487.2,239.2 487.46,238.1 487.71,239.39 487.97,240.15 488.23,236.49 488.49,239.49 488.74,236.65 489,241.63 489.26,234.7 489.52,235.59 489.77,234.27 490.03,236.53 490.29,236.8 490.54,237.22 490.8,237.93 491.06,239.92 491.32,236.69 491.57,233.84 491.83,233.33 492.09,236.4 492.35,236 492.6,238.67 492.86,237.55 493.12,233.04 493.37,235.15 493.63,228.3 493.89,232.69 494.15,235.3 494.4,236.41 494.66,237.56 494.92,239.3 495.18,237.17 495.43,235.14 495.69,235.83 495.95,235.15 496.2,239.71 496.46,240.68 496.72,238.3 496.98,237.96 497.23,236.71 497.49,234.64 497.75,234.28 498.01,237.36 498.26,236.42 498.52,234.32 498.78,236.61 499.03,236.16 499.29,238.54 499.55,235.7 499.81,234.27 500.06,237.31 500.32,234.46 500.58,234.52 500.84,235.97 501.09,240.4 501.35,236.57 501.61,238.1 501.86,240.47 502.12,234.79 502.38,237.66 502.64,236.05 502.89,237.06 503.15,234.32 503.41,236.84 503.66,237.8 503.92,233.03 504.18,235.2 504.44,234.67 504.69,236.53 504.95,237.89 505.21,237.7 505.47,234.57 505.72,232.6 505.98,227.34 506.24,238.36 506.49,232.54 506.75,234.91 507.01,234.95 507.27,234.46 507.52,240.02 507.78,232.95" fill="none" stroke="#1212dc" stroke-width="1.25" stroke-linejoin="round" stroke-linecap="round"/>
<polyline points="306.6,303 306.86,303.4 307.11,300.86 307.37,314.27 307.63,296.53 307.89,303.44 308.14,305.14 308.4,298.18 308.66,304.06 308.92,296.9 309.17,311.2 309.43,291.98 309.69,294.63 309.94,307.72 310.2,295.24 310.46,277.75 310.72,309.56 310.97,306.62 311.23,300.5 311.49,305.09 311.75,308.11 312,295.98 312.26,301.76 312.52,307.3 312.77,319.76 313.03,308.05 313.29,296.82 313.55,300.16 313.8,296.37 314.06,301.62 314.32,303.8 314.58,307.99 314.83,307.83 315.09,302.64 315.35,310.96 315.6,290.63 315.86,300.42 316.12,296.43 316.38,300.72 316.63,294.05 316.89,295.24 317.15,296.44 317.41,296.46 317.66,306.08 317.92,301.85 318.18,303.08 318.43,300.55 318.69,307.21 318.95,303.68 319.21,299.62 319.46,304.08 319.72,307.81 319.98,297.29 320.24,302.19 320.49,301.08 320.75,302.35 321.01,310.16 321.26,298.88 321.52,301.02 321.78,316.14 322.04,309.87 322.29,297.72 322.55,299.47 322.81,304.53 323.06,295.88 323.32,294.76 323.58,303.86 323.84,305.16 324.09,298.64 324.35,305.44 324.61,297.19 324.87,313.53 325.12,298.95 325.38,230.39 325.64,231.37 325.89,231.94 326.15,231.39 326.41,233.11 326.67,231.95 326.92,230.56 327.18,231.87 327.44,235.17 327.7,234.13 327.95,232.9 328.21,231.14 328.47,232.74 328.72,230.47 328.98,231.44 329.24,231.84 329.5,231.62 329.75,233.54 330.01,232.55 330.27,229.89 330.53,231.41 330.78,233.2 331.04,230.95 331.3,234.1 331.55,230.09 331.81,231.44 332.07,232.26 332.33,232.29 332.58,232.19 332.84,232.13 333.1,233.86 333.36,235.87 333.61,231.74 333.87,233.61 334.13,233.55 334.38,231.55 334.64,232.11 334.9,232.62 335.16,232.99 335.41,233.66 335.67,233.4 335.93,228.67 336.19,231.69 336.44,230.58 336.7,229.92 336.96,227.45 337.21,233.36 337.47,231.46 337.73,234.3 337.99,231.97 338.24,230.15 338.5,230.57 338.76,231.65 339.02,230.76 339.27,233.55 339.53,233.02 339.79,231.3 340.04,233.21 340.3,230.75 340.56,232.21 340.82,232.22 341.07,229.68 341.33,229.53 341.59,230.98 341.85,233.91 342.1,231.22 342.36,230.69 342.62,232.93 342.87,232.04 343.13,232.74 343.39,229.83 343.65,231.56 343.9,302.21 344.16,300.17 344.42,301.01 344.68,302.47 344.93,300.34 345.19,298.28 345.45,300.95 345.7,304.61 345.96,302.1 346.22,303.43 346.48,302.41 346.73,296.17 346.99,301.04 347.25,300.49 347.51,301.5 347.76,299.05 348.02,301.2 348.28,298.78 348.53,299.76 348.79,301.88 349.05,303.25 349.31,302.77 349.56,303.78 349.82,305.52 350.08,294.92 350.34,298.56 350.59,300.25 350.85,297.7 351.11,297.61 351.36,301.49 351.62,299.7 351.88,294.11 352.14,300.87 352.39,301.12 352.65,301.44 352.91,300.74 353.16,299.55 353.42,300.8 353.68,296.82 353.94,299.46 354.19,297.27 354.45,303.57 354.71,301.6 354.97,300.22 355.22,301.62 355.48,299.87 355.74,300.88 355.99,299.72 356.25,296.53 356.51,300.31 356.77,301.77 357.02,296.25 357.28,294.08 357.54,301.43 357.8,296.62 358.05,299.17 358.31,302.21 358.57,301.79 358.82,313.67 359.08,300.2 359.34,289.73 359.6,309.76 359.85,297.43 360.11,302.73 360.37,298.78 360.63,303.89 360.88,297.27 361.14,305.89 361.4,301.8 361.65,297.05 361.91,299.32 362.17,295.62 362.43,300.28 362.68,301.48 362.94,298.27 363.2,297.58 363.46,298.37 363.71,231.12 363.97,230.34 364.23,229.11 364.48,229.91 364.74,229.53 365,230.3 365.26,231.42 365.51,228.64 365.77,229.23 366.03,232.32 366.29,228.46 366.54,227.47 366.8,231.29 367.06,229.36 367.31,231.27 367.57,230.22 367.83,229.11 368.09,233.28 368.34,229.29 368.6,229.75 368.86,229.23 369.12,228.9 369.37,227.56 369.63,230.49 369.89,227.52 370.14,228.72 370.4,229.46 370.66,228.15 370.92,230.22 371.17,229.52 371.43,228.85 371.69,228.63 371.95,228.58 372.2,229.32 372.46,228.55 372.72,230.23 372.97,229.36 373.23,228.68 373.49,229.14 373.75,229.57 374,227.53 374.26,228.52 374.52,228.24 374.78,228.26 375.03,231.27 375.29,228.3 375.55,229.7 375.8,228.64 376.06,228.85 376.32,228.3 376.58,228.64 376.83,228.77 377.09,228.64 377.35,230.15 377.61,228.81 377.86,227.1 378.12,228.74 378.38,229.47 378.63,229.42 378.89,229.17 379.15,228.03 379.41,229.81 379.66,228.25 379.92,228.25 380.18,229.16 380.44,228.42 380.69,229.19 380.95,228.95 381.21,228.27 381.46,229.28 381.72,229.09 381.98,227.67 382.24,228.02 382.49,314.42 382.75,307.69 383.01,304.4 383.26,307.84 383.52,310.13 383.78,310.37 384.04,312.17 384.29,307.55 384.55,309.22 384.81,307.66 385.07,305.63 385.32,312.79 385.58,311.31 385.84,308.32 386.09,311.65 386.35,308.1 386.61,311.05 386.87,308.44 387.12,305.75 387.38,313.04 387.64,310.58 387.9,313.36 388.15,308 388.41,310.35 388.67,308.11 388.92,302.09 389.18,311.6 389.44,304.42 389.7,304.94 389.95,310.57 390.21,302.42 390.47,303.61 390.73,307.14 390.98,304.75 391.24,310 391.5,311.24 391.75,305.52 392.01,312.62 392.27,315.3 392.53,311.87 392.78,313.43 393.04,307.09 393.3,308.31 393.56,310.94 393.81,310.12 394.07,312.24 394.33,307.28 394.58,304.99 394.84,312.17 395.1,303.03 395.36,305.01 395.61,310.12 395.87,310.1 396.13,306.85 396.39,303.2 396.64,307.62 396.9,308.99 397.16,311.14 397.41,308.77 397.67,303.16 397.93,311.12 398.19,306.07 398.44,311.49 398.7,224.01 398.96,223.77 399.22,224.19 399.47,223.67 399.73,224.91 399.99,222.56 400.24,223.45 400.5,223.41 400.76,222.71 401.02,221.35 401.27,220.77 401.53,221.77 401.79,222.32 402.05,221.42 402.3,221.99 402.56,223.26 402.82,219.33 403.07,219.23 403.33,219.37 403.59,218.7 403.85,218.42 404.1,220.32 404.36,217.86 404.62,216.86 404.88,217.18 405.13,218.24 405.39,217.76 405.65,218.06 405.9,217.2 406.16,218.52 406.42,216.69 406.68,215.89 406.93,215.69 407.19,217.22 407.45,215.9 407.71,215.69 407.96,213.4 408.22,216 408.48,214.19 408.73,215.75 408.99,215.6 409.25,215.87 409.51,214.19 409.76,216.07 410.02,212.61 410.28,215.47 410.54,213.04 410.79,214.3 411.05,216.38 411.31,215.06 411.56,212.82 411.82,216.31 412.08,213.93 412.34,211.91 412.59,212.79 412.85,278.51 413.11,278.52 413.36,272.68 413.62,271.47 413.88,275.4 414.14,283.09 414.39,279.43 414.65,283.32 414.91,278.74 415.17,274.33 415.42,277.55 415.68,279.49 415.94,280.63 416.19,286.92 416.45,283.4 416.71,280.84 416.97,277.06 417.22,283.37 417.48,282.34 417.74,280.32 418,290.22 418.25,283.24 418.51,284.75 418.77,278.03 419.02,283.82 419.28,286.64 419.54,283.06 419.8,276.85 420.05,286.12 420.31,280.26 420.57,278.66 420.83,288.45 421.08,282.73 421.34,282.92 421.6,284.17 421.85,276.51 422.11,281.64 422.37,289.47 422.63,285.13 422.88,286.94 423.14,287.03 423.4,284.21 423.66,288.38 423.91,286.55 424.17,284.25 424.43,281.03 424.68,286.88 424.94,282.61 425.2,281.57 425.46,287.73 425.71,286.15 425.97,287.68 426.23,285.4 426.49,283.16 426.74,281.69 427,284.82 427.26,289.99 427.51,288.65 427.77,291.59 428.03,279.79 428.29,283.86 428.54,286.16 428.8,285.69 429.06,284.69 429.32,288.29 429.57,283.94 429.83,288.67 430.09,284.82 430.34,287.1 430.6,286.59 430.86,287.34 431.12,285.8 431.37,289.82 431.63,287.53 431.89,290.49 432.15,290.45 432.4,290 432.66,286.04 432.92,291.18 433.17,288.33 433.43,287.62 433.69,286.43 433.95,286.66 434.2,291.81 434.46,284.15 434.72,292.11 434.98,288.17 435.23,291.35 435.49,281.54 435.75,218.4 436,214.17 436.26,214.52 436.52,216.13 436.78,214.85 437.03,214.01 437.29,214.52 437.55,213.43 437.81,212.99 438.06,217.23 438.32,215.2 438.58,215.35 438.83,214.64 439.09,211.66 439.35,214.59 439.61,214.44 439.86,213.37 440.12,211.84 440.38,212.61 440.64,210.35 440.89,211.34 441.15,212.93 441.41,212.4 441.66,211.08 441.92,216.63 442.18,209.15 442.44,211.02 442.69,210.57 442.95,211.18 443.21,211.82 443.46,210.28 443.72,212.63 443.98,214.62 444.24,212.57 444.49,211.78 444.75,211.41 445.01,212.1 445.27,211.09 445.52,209.95 445.78,210.26 446.04,210.72 446.29,209.8 446.55,212.95 446.81,212.04 447.07,212.06 447.32,209.4 447.58,210.36 447.84,210.62 448.1,210.83 448.35,211.32 448.61,210.17 448.87,210.14 449.12,209.29 449.38,211.83 449.64,211.24 449.9,205.09 450.15,209.38 450.41,213.51 450.67,210.14 450.93,210.32 451.18,213 451.44,209.47 451.7,209.05 451.95,209.53 452.21,212.74 452.47,209.37 452.73,214.08 452.98,209.53 453.24,209.63 453.5,209.74 453.76,208.35 454.01,211.72 454.27,210.61 454.53,211.72 454.78,210.4 455.04,210.93 455.3,211.58 455.56,208.66 455.81,211.39 456.07,209.37 456.33,210.35 456.59,211.63 456.84,206.36 457.1,210.24 457.36,284.88 457.61,288.66 457.87,292.26 458.13,283.92 458.39,289.92 458.64,286.6 458.9,291.3 459.16,280.71 459.42,287.29 459.67,280.83 459.93,285.64 460.19,283.86 460.44,283.29 460.7,285.03 460.96,285.97 461.22,286.49 461.47,281.65 461.73,279.94 461.99,290.44 462.25,284.97 462.5,285.82 462.76,288.95 463.02,285.78 463.27,281.55 463.53,283.68 463.79,284.19 464.05,284.16 464.3,287.38 464.56,282.63 464.82,284.9 465.08,281.66 465.33,282.7 465.59,285.22 465.85,280.8 466.1,288.55 466.36,281.44 466.62,281.03 466.88,281.83 467.13,284.57 467.39,278.65 467.65,280.45 467.91,278.92 468.16,283.98 468.42,281.18 468.68,278.13 468.93,279.85 469.19,279.12 469.45,280.88 469.71,279.64 469.96,279.91 470.22,277.92 470.48,276.37 470.74,280.8 470.99,281.52 471.25,284.51 471.51,282.26 471.76,279.8 472.02,277.61 472.28,273.51 472.54,275.37 472.79,275.82 473.05,271.42 473.31,275.91 473.56,279.94 473.82,275.14 474.08,277.21 474.34,274.04 474.59,273.17 474.85,273.63 475.11,273.93 475.37,274.27 475.62,276.12 475.88,274.89 476.14,275.58 476.39,262.86 476.65,269.05 476.91,272.88 477.17,267.3 477.42,272.98 477.68,269.3 477.94,263.6 478.2,267.12 478.45,269.83 478.71,203.19 478.97,203.16 479.22,200.75 479.48,207.47 479.74,204.84 480,204.34 480.25,202.31 480.51,200.34 480.77,200.38 481.03,203.5 481.28,196.69 481.54,204.36 481.8,200.93 482.05,200.52 482.31,202.19 482.57,199.78 482.83,202.13 483.08,205.01 483.34,202.79 483.6,204.51 483.86,200.69 484.11,200.88 484.37,202.49 484.63,202.7 484.88,198.75 485.14,201.52 485.4,203.09 485.66,202.38 485.91,197.36 486.17,204.13 486.43,201.96 486.69,199.19 486.94,201.46 487.2,198.96 487.46,201.82 487.71,203.3 487.97,200.05 488.23,198.34 488.49,198.52 488.74,200.6 489,198.18 489.26,197.75 489.52,199.85 489.77,196.63 490.03,200.94 490.29,198 490.54,200.95 490.8,198.1 491.06,201.69 491.32,202.06 491.57,198.96 491.83,198.96 492.09,197.42 492.35,199.2 492.6,197.49 492.86,198.91 493.12,201.94 493.37,196.05 493.63,196.88 493.89,196.82 494.15,198.5 494.4,198.66 494.66,196.68 494.92,199.18 495.18,198.9 495.43,201.64 495.69,199.48 495.95,199.87 496.2,201.78 496.46,199.14 496.72,198 496.98,202.13 497.23,197.72 497.49,198.41 497.75,200.6 498.01,197.89 498.26,198.34 498.52,200.22 498.78,196.26 499.03,198.52 499.29,197.2 499.55,197.87 499.81,199.39 500.06,200.06 500.32,199.76 500.58,198.02 500.84,197.53 501.09,197.37 501.35,192.84 501.61,198.13 501.86,196.34 502.12,195.29 502.38,198.01 502.64,201.5 502.89,197.28 503.15,197.29 503.41,196.26 503.66,199.11 503.92,197.81 504.18,195.28 504.44,199.77 504.69,197.09 504.95,200.52 505.21,197.03 505.47,199.84 505.72,198.16 505.98,198.01 506.24,197.32 506.49,190.45 506.75,198.87 507.01,198.67 507.27,196.4 507.52,196.58 507.78,199.03" fill="none" stroke="#e8161b" stroke-width="1.25" stroke-linejoin="round" stroke-linecap="round"/>
<polyline points="306.6,305.43 306.86,307.22 307.11,307.93 307.37,308.97 307.63,309.2 307.89,311.2 308.14,311.19 308.4,310.69 308.66,311.4 308.92,314.22 309.17,312.94 309.43,314.19 309.69,314.56 309.94,315.71 310.2,315.43 310.46,317.28 310.72,315.08 310.97,317.05 311.23,316.62 311.49,315.71 311.75,316.36 312,316.76 312.26,316.82 312.52,315.58 312.77,317.38 313.03,316.13 313.29,316.68 313.55,316.54 313.8,317.42 314.06,316.64 314.32,316.91 314.58,315.43 314.83,316.87 315.09,316.71 315.35,318.58 315.6,316.42 315.86,316.52 316.12,317.64 316.38,316.72 316.63,317.6 316.89,315.8 317.15,317.46 317.41,317.67 317.66,316.93 317.92,316.58 318.18,316.92 318.43,319.61 318.69,317.66 318.95,318 319.21,315.47 319.46,315.97 319.72,315.76 319.98,317.9 320.24,315.3 320.49,316.89 320.75,318.23 321.01,315.72 321.26,316.17 321.52,314.91 321.78,317.05 322.04,316.85 322.29,316.34 322.55,316.04 322.81,316.02 323.06,316.04 323.32,316.1 323.58,317.4 323.84,316.08 324.09,315.29 324.35,317.17 324.61,317.4 324.87,316.09 325.12,314.93 325.38,248.38 325.64,248.13 325.89,246.46 326.15,248.32 326.41,247.95 326.67,248.38 326.92,248.1 327.18,248.49 327.44,248.97 327.7,248.8 327.95,248.38 328.21,248.71 328.47,247.66 328.72,248.26 328.98,247.98 329.24,247.42 329.5,248.84 329.75,248.56 330.01,248.45 330.27,248.27 330.53,248.5 330.78,249.52 331.04,248.27 331.3,248.73 331.55,249.09 331.81,248.49 332.07,248.52 332.33,248.16 332.58,248.94 332.84,248.65 333.1,249.74 333.36,248.69 333.61,248.11 333.87,249.09 334.13,247.93 334.38,247.26 334.64,248.21 334.9,248.73 335.16,248.67 335.41,248.42 335.67,248.47 335.93,248.67 336.19,248.95 336.44,247.64 336.7,251.67 336.96,248.85 337.21,248.77 337.47,248.27 337.73,248.19 337.99,247.48 338.24,248.28 338.5,247.59 338.76,248.22 339.02,247.69 339.27,248.13 339.53,248.51 339.79,247.88 340.04,248.33 340.3,247.61 340.56,249 340.82,247.65 341.07,247.87 341.33,246.68 341.59,248.45 341.85,246.96 342.1,248.49 342.36,248.11 342.62,248.3 342.87,247.66 343.13,248.24 343.39,248.71 343.65,247.72 343.9,304.39 344.16,301.53 344.42,304.89 344.68,306.43 344.93,306.39 345.19,306.06 345.45,304.68 345.7,302.09 345.96,303.38 346.22,305.33 346.48,302.12 346.73,299.81 346.99,307.6 347.25,304.49 347.51,300.98 347.76,303.63 348.02,303.97 348.28,305.35 348.53,306.51 348.79,300.73 349.05,302.84 349.31,304.65 349.56,303.9 349.82,308.33 350.08,304.86 350.34,304.67 350.59,306.94 350.85,305.77 351.11,304.98 351.36,304.95 351.62,300.29 351.88,305.77 352.14,303.1 352.39,303.91 352.65,309.15 352.91,303.62 353.16,303.4 353.42,302.4 353.68,304.28 353.94,303.56 354.19,303.46 354.45,306.84 354.71,300.44 354.97,305.59 355.22,303.9 355.48,303.29 355.74,304.1 355.99,305 356.25,306.84 356.51,300.94 356.77,299.6 357.02,304.15 357.28,303.7 357.54,300.44 357.8,302.88 358.05,303.95 358.31,302.86 358.57,305.76 358.82,302.39 359.08,304.01 359.34,303.51 359.6,303.62 359.85,299.93 360.11,303.27 360.37,303.44 360.63,304.25 360.88,307.6 361.14,302.56 361.4,301.2 361.65,300.79 361.91,299.84 362.17,300.02 362.43,300.16 362.68,307.17 362.94,299.69 363.2,300.47 363.46,303.48 363.71,236.51 363.97,237.15 364.23,236.87 364.48,236.93 364.74,239.2 365,238.68 365.26,237.11 365.51,236.92 365.77,235.37 366.03,237.07 366.29,239.8 366.54,237.12 366.8,236.94 367.06,238.71 367.31,236.93 367.57,238.2 367.83,238.88 368.09,235.86 368.34,234.85 368.6,238.3 368.86,235 369.12,235.8 369.37,235.49 369.63,235.14 369.89,235.21 370.14,235.63 370.4,235.41 370.66,238.25 370.92,235.74 371.17,237.44 371.43,236.41 371.69,235.89 371.95,236.49 372.2,235.65 372.46,234.96 372.72,236.9 372.97,235.05 373.23,237.03 373.49,235.06 373.75,235.51 374,234.32 374.26,236.8 374.52,236.69 374.78,236.01 375.03,235.45 375.29,235.35 375.55,234.54 375.8,235.94 376.06,235.41 376.32,233.89 376.58,235.67 376.83,233.87 377.09,235.44 377.35,233.07 377.61,236.81 377.86,232.97 378.12,235.77 378.38,236.84 378.63,235.77 378.89,235.63 379.15,233.92 379.41,233.61 379.66,233.13 379.92,235.84 380.18,237.01 380.44,236.49 380.69,235.38 380.95,233.9 381.21,236.22 381.46,236.52 381.72,233.74 381.98,234.56 382.24,235.99 382.49,302.25 382.75,302.66 383.01,303.92 383.26,299.65 383.52,299.64 383.78,302.03 384.04,298.44 384.29,299.48 384.55,297.63 384.81,301.35 385.07,299.58 385.32,302.33 385.58,301.15 385.84,302.7 386.09,302.64 386.35,304.1 386.61,300.02 386.87,305.87 387.12,303.75 387.38,300.44 387.64,302.41 387.9,300.9 388.15,304.01 388.41,297.91 388.67,300.72 388.92,301.93 389.18,299.72 389.44,300.9 389.7,303.24 389.95,300.36 390.21,303.16 390.47,301.53 390.73,302.53 390.98,300.71 391.24,302.23 391.5,298.64 391.75,297.64 392.01,298.83 392.27,300.73 392.53,307.23 392.78,300.56 393.04,293.66 393.3,299.46 393.56,301.23 393.81,301.47 394.07,303.71 394.33,297.91 394.58,302.24 394.84,298.95 395.1,301.84 395.36,294.45 395.61,308.64 395.87,300.59 396.13,301.06 396.39,299.06 396.64,301.3 396.9,298.24 397.16,300.91 397.41,300.76 397.67,298.52 397.93,292.94 398.19,299.03 398.44,295.41 398.7,234.05 398.96,232.11 399.22,234.75 399.47,233.49 399.73,234.91 399.99,234.09 400.24,228.67 400.5,230.35 400.76,232.92 401.02,234.22 401.27,237.39 401.53,233.4 401.79,233.1 402.05,233.33 402.3,232 402.56,233.51 402.82,232.04 403.07,233.89 403.33,233.55 403.59,233 403.85,232.68 404.1,231.95 404.36,233.26 404.62,233.08 404.88,234.22 405.13,232.82 405.39,234.03 405.65,233.46 405.9,231.64 406.16,232.65 406.42,231.47 406.68,231.1 406.93,231.57 407.19,231.96 407.45,232.41 407.71,233.48 407.96,231.19 408.22,232.49 408.48,232.94 408.73,234.08 408.99,232.3 409.25,232.78 409.51,231.86 409.76,231.23 410.02,233.83 410.28,231.58 410.54,232.12 410.79,233.28 411.05,233.32 411.31,233.91 411.56,233 411.82,232.26 412.08,231.05 412.34,232.04 412.59,232.14 412.85,315.94 413.11,316.1 413.36,314.77 413.62,310.95 413.88,316.75 414.14,311.53 414.39,307.79 414.65,311.07 414.91,312.98 415.17,309.52 415.42,307.99 415.68,301.48 415.94,310.37 416.19,309.87 416.45,310 416.71,307.93 416.97,301.41 417.22,315.36 417.48,308.21 417.74,306.95 418,305.88 418.25,310.69 418.51,309.26 418.77,308.97 419.02,309.45 419.28,297.25 419.54,313.65 419.8,307.2 420.05,309.8 420.31,306.38 420.57,307.14 420.83,307.7 421.08,306.83 421.34,306.72 421.6,311.72 421.85,307.62 422.11,301.99 422.37,302.36 422.63,310.29 422.88,306.95 423.14,301.19 423.4,300.38 423.66,305.88 423.91,302.38 424.17,301.35 424.43,299.51 424.68,302.06 424.94,299.36 425.2,304.17 425.46,297.72 425.71,299.2 425.97,297 426.23,307.07 426.49,296.75 426.74,297.62 427,301.09 427.26,293.62 427.51,294.26 427.77,297.12 428.03,307.17 428.29,294.22 428.54,296.99 428.8,300.55 429.06,306.87 429.32,311.62 429.57,294.36 429.83,300.14 430.09,304.04 430.34,304.23 430.6,302.91 430.86,297.59 431.12,296.56 431.37,292.87 431.63,304.83 431.89,299.32 432.15,302.83 432.4,301.92 432.66,302.66 432.92,291.74 433.17,299.11 433.43,300.35 433.69,300.96 433.95,295.36 434.2,295.74 434.46,294.42 434.72,301.71 434.98,292.73 435.23,293.17 435.49,302.06 435.75,230.5 436,232.71 436.26,232.91 436.52,229.44 436.78,231.81 437.03,232.43 437.29,230.44 437.55,233.63 437.81,231.4 438.06,229.28 438.32,232.76 438.58,231.04 438.83,232.11 439.09,230.34 439.35,230.66 439.61,231.48 439.86,233.72 440.12,231.06 440.38,230.1 440.64,230.7 440.89,231.38 441.15,230.12 441.41,230.81 441.66,231.78 441.92,229.96 442.18,230.27 442.44,230.22 442.69,232.51 442.95,227.52 443.21,229.96 443.46,229.05 443.72,229.29 443.98,226.87 444.24,228.53 444.49,232.8 444.75,230.9 445.01,228.99 445.27,227.97 445.52,228.67 445.78,229.59 446.04,231.24 446.29,229.67 446.55,230.75 446.81,228.26 447.07,225.77 447.32,228.94 447.58,228.02 447.84,230.71 448.1,232.08 448.35,229.13 448.61,231.37 448.87,228.06 449.12,234.09 449.38,229.23 449.64,230.36 449.9,231.14 450.15,232.27 450.41,231.93 450.67,231.51 450.93,227.9 451.18,231.59 451.44,230.07 451.7,229.09 451.95,231.88 452.21,232.45 452.47,233.64 452.73,232.15 452.98,230.6 453.24,229.29 453.5,232.44 453.76,229.39 454.01,232.68 454.27,229.79 454.53,228.84 454.78,230.77 455.04,228.36 455.3,232.21 455.56,232.68 455.81,232.38 456.07,229.94 456.33,233.49 456.59,230.26 456.84,228.44 457.1,229.75 457.36,292.94 457.61,293.22 457.87,297.95 458.13,297.89 458.39,295.99 458.64,296.82 458.9,293.92 459.16,298.29 459.42,293.63 459.67,299.48 459.93,295.88 460.19,296.21 460.44,295.36 460.7,296.11 460.96,295.84 461.22,297.74 461.47,291.29 461.73,296.94 461.99,296.27 462.25,299.28 462.5,302.16 462.76,296.25 463.02,298.7 463.27,299.14 463.53,296.85 463.79,291.59 464.05,293.32 464.3,295.76 464.56,299.62 464.82,297.6 465.08,297.54 465.33,298.44 465.59,298.75 465.85,293.71 466.1,292.81 466.36,295.16 466.62,296.33 466.88,297.31 467.13,297.75 467.39,287.93 467.65,298.09 467.91,296.4 468.16,298.77 468.42,298.24 468.68,298.4 468.93,296.78 469.19,298.59 469.45,296.24 469.71,296.94 469.96,293.45 470.22,295.55 470.48,293.53 470.74,301.12 470.99,297.26 471.25,297.39 471.51,294.93 471.76,295.81 472.02,295.35 472.28,292.68 472.54,298.07 472.79,296.46 473.05,295.48 473.31,296.19 473.56,295.81 473.82,295.68 474.08,298.43 474.34,302.91 474.59,295.45 474.85,297.71 475.11,293.12 475.37,292.59 475.62,293.88 475.88,296.81 476.14,296.03 476.39,295.18 476.65,298.85 476.91,295.2 477.17,295.03 477.42,295.05 477.68,295.89 477.94,291.7 478.2,292.63 478.45,297.54 478.71,229.96 478.97,229.39 479.22,230.68 479.48,226.18 479.74,227.14 480,229.33 480.25,230.47 480.51,228.87 480.77,227.94 481.03,229.35 481.28,228.03 481.54,227.75 481.8,228.16 482.05,226.38 482.31,225.44 482.57,225.65 482.83,227.86 483.08,232.73 483.34,225.1 483.6,229.91 483.86,227.53 484.11,229.51 484.37,227.39 484.63,223.28 484.88,229.28 485.14,227.18 485.4,222.87 485.66,227.41 485.91,226.23 486.17,222.6 486.43,224.33 486.69,224.03 486.94,225.56 487.2,222.76 487.46,224.92 487.71,221.31 487.97,224.05 488.23,226.39 488.49,224.39 488.74,228.82 489,224.44 489.26,224 489.52,226.5 489.77,223.09 490.03,221.97 490.29,224.13 490.54,221.23 490.8,220.74 491.06,225.98 491.32,225.78 491.57,228.74 491.83,226.49 492.09,224.53 492.35,222.51 492.6,220.86 492.86,223.51 493.12,223.45 493.37,226.13 493.63,221.01 493.89,225.51 494.15,229.04 494.4,225.48 494.66,225.07 494.92,218.02 495.18,223.11 495.43,224.85 495.69,226.39 495.95,222.16 496.2,220.82 496.46,222.03 496.72,219.64 496.98,226.61 497.23,224.85 497.49,220.22 497.75,222.51 498.01,222.57 498.26,220.02 498.52,220.93 498.78,222.11 499.03,218.25 499.29,222.96 499.55,221.05 499.81,220.26 500.06,221.27 500.32,221.05 500.58,219.8 500.84,219.83 501.09,231.18 501.35,222.74 501.61,221.19 501.86,225.62 502.12,220.96 502.38,222.05 502.64,220.43 502.89,222.11 503.15,220.95 503.41,228.24 503.66,220.67 503.92,218.64 504.18,219.88 504.44,220.5 504.69,221.15 504.95,220.76 505.21,225.13 505.47,225.55 505.72,224.59 505.98,218.05 506.24,216.38 506.49,224.54 506.75,218.84 507.01,219.89 507.27,221.63 507.52,221.19 507.78,222.15" fill="none" stroke="#16801a" stroke-width="1.25" stroke-linejoin="round" stroke-linecap="round"/>
</g>
<rect x="306.8" y="192.3" width="199.8" height="142.8" fill="none" stroke="#000" stroke-width="2.3"/>
<line x1="306.8" y1="324.85" x2="309" y2="324.85" stroke="#000" stroke-width="1.3"/>
<line x1="306.8" y1="318.96" x2="309" y2="318.96" stroke="#000" stroke-width="1.3"/>
<line x1="306.8" y1="314.79" x2="309" y2="314.79" stroke="#000" stroke-width="1.3"/>
<line x1="306.8" y1="311.55" x2="309" y2="311.55" stroke="#000" stroke-width="1.3"/>
<line x1="306.8" y1="308.91" x2="309" y2="308.91" stroke="#000" stroke-width="1.3"/>
<line x1="306.8" y1="306.67" x2="309" y2="306.67" stroke="#000" stroke-width="1.3"/>
<line x1="306.8" y1="304.74" x2="309" y2="304.74" stroke="#000" stroke-width="1.3"/>
<line x1="306.8" y1="303.03" x2="309" y2="303.03" stroke="#000" stroke-width="1.3"/>
<line x1="306.8" y1="301.5" x2="310" y2="301.5" stroke="#000" stroke-width="1.3"/>
<line x1="306.8" y1="291.45" x2="309" y2="291.45" stroke="#000" stroke-width="1.3"/>
<line x1="306.8" y1="285.56" x2="309" y2="285.56" stroke="#000" stroke-width="1.3"/>
<line x1="306.8" y1="281.39" x2="309" y2="281.39" stroke="#000" stroke-width="1.3"/>
<line x1="306.8" y1="278.15" x2="309" y2="278.15" stroke="#000" stroke-width="1.3"/>
<line x1="306.8" y1="275.51" x2="309" y2="275.51" stroke="#000" stroke-width="1.3"/>
<line x1="306.8" y1="273.27" x2="309" y2="273.27" stroke="#000" stroke-width="1.3"/>
<line x1="306.8" y1="271.34" x2="309" y2="271.34" stroke="#000" stroke-width="1.3"/>
<line x1="306.8" y1="269.63" x2="309" y2="269.63" stroke="#000" stroke-width="1.3"/>
<line x1="306.8" y1="268.1" x2="310" y2="268.1" stroke="#000" stroke-width="1.3"/>
<line x1="306.8" y1="258.05" x2="309" y2="258.05" stroke="#000" stroke-width="1.3"/>
<line x1="306.8" y1="252.16" x2="309" y2="252.16" stroke="#000" stroke-width="1.3"/>
<line x1="306.8" y1="247.99" x2="309" y2="247.99" stroke="#000" stroke-width="1.3"/>
<line x1="306.8" y1="244.75" x2="309" y2="244.75" stroke="#000" stroke-width="1.3"/>
<line x1="306.8" y1="242.11" x2="309" y2="242.11" stroke="#000" stroke-width="1.3"/>
<line x1="306.8" y1="239.87" x2="309" y2="239.87" stroke="#000" stroke-width="1.3"/>
<line x1="306.8" y1="237.94" x2="309" y2="237.94" stroke="#000" stroke-width="1.3"/>
<line x1="306.8" y1="236.23" x2="309" y2="236.23" stroke="#000" stroke-width="1.3"/>
<line x1="306.8" y1="234.7" x2="310" y2="234.7" stroke="#000" stroke-width="1.3"/>
<line x1="306.8" y1="224.65" x2="309" y2="224.65" stroke="#000" stroke-width="1.3"/>
<line x1="306.8" y1="218.76" x2="309" y2="218.76" stroke="#000" stroke-width="1.3"/>
<line x1="306.8" y1="214.59" x2="309" y2="214.59" stroke="#000" stroke-width="1.3"/>
<line x1="306.8" y1="211.35" x2="309" y2="211.35" stroke="#000" stroke-width="1.3"/>
<line x1="306.8" y1="208.71" x2="309" y2="208.71" stroke="#000" stroke-width="1.3"/>
<line x1="306.8" y1="206.47" x2="309" y2="206.47" stroke="#000" stroke-width="1.3"/>
<line x1="306.8" y1="204.54" x2="309" y2="204.54" stroke="#000" stroke-width="1.3"/>
<line x1="306.8" y1="202.83" x2="309" y2="202.83" stroke="#000" stroke-width="1.3"/>
<line x1="306.8" y1="201.3" x2="310" y2="201.3" stroke="#000" stroke-width="1.3"/>
<line x1="320.89" y1="335.1" x2="320.89" y2="333.3" stroke="#000" stroke-width="1.4"/>
<line x1="335.19" y1="335.1" x2="335.19" y2="331.9" stroke="#000" stroke-width="1.4"/>
<line x1="349.48" y1="335.1" x2="349.48" y2="333.3" stroke="#000" stroke-width="1.4"/>
<line x1="363.77" y1="335.1" x2="363.77" y2="331.9" stroke="#000" stroke-width="1.4"/>
<line x1="378.06" y1="335.1" x2="378.06" y2="333.3" stroke="#000" stroke-width="1.4"/>
<line x1="392.36" y1="335.1" x2="392.36" y2="331.9" stroke="#000" stroke-width="1.4"/>
<line x1="406.65" y1="335.1" x2="406.65" y2="333.3" stroke="#000" stroke-width="1.4"/>
<line x1="420.94" y1="335.1" x2="420.94" y2="331.9" stroke="#000" stroke-width="1.4"/>
<line x1="435.23" y1="335.1" x2="435.23" y2="333.3" stroke="#000" stroke-width="1.4"/>
<line x1="449.52" y1="335.1" x2="449.52" y2="331.9" stroke="#000" stroke-width="1.4"/>
<line x1="463.82" y1="335.1" x2="463.82" y2="333.3" stroke="#000" stroke-width="1.4"/>
<line x1="478.11" y1="335.1" x2="478.11" y2="331.9" stroke="#000" stroke-width="1.4"/>
<line x1="492.4" y1="335.1" x2="492.4" y2="333.3" stroke="#000" stroke-width="1.4"/>
<text x="302.4" y="204.8" font-size="11.2" text-anchor="end" fill="#000" font-weight="bold" stroke="#000" stroke-width="0.25">100</text>
<text x="302.4" y="238.2" font-size="11.2" text-anchor="end" fill="#000" font-weight="bold" stroke="#000" stroke-width="0.25">10</text>
<text x="302.4" y="271.6" font-size="11.2" text-anchor="end" fill="#000" font-weight="bold" stroke="#000" stroke-width="0.25">1</text>
<text x="302.4" y="305" font-size="11.2" text-anchor="end" fill="#000" font-weight="bold" stroke="#000" stroke-width="0.25">0.1</text>
<text x="302.4" y="338.4" font-size="11.2" text-anchor="end" fill="#000" font-weight="bold" stroke="#000" stroke-width="0.25">0.01</text>
<text x="306.8" y="348.7" font-size="11.2" text-anchor="middle" fill="#000" font-weight="bold" stroke="#000" stroke-width="0.25">0</text>
<text x="335.38" y="348.7" font-size="11.2" text-anchor="middle" fill="#000" font-weight="bold" stroke="#000" stroke-width="0.25">50</text>
<text x="363.97" y="348.7" font-size="11.2" text-anchor="middle" fill="#000" font-weight="bold" stroke="#000" stroke-width="0.25">100</text>
<text x="392.56" y="348.7" font-size="11.2" text-anchor="middle" fill="#000" font-weight="bold" stroke="#000" stroke-width="0.25">150</text>
<text x="421.14" y="348.7" font-size="11.2" text-anchor="middle" fill="#000" font-weight="bold" stroke="#000" stroke-width="0.25">200</text>
<text x="449.72" y="348.7" font-size="11.2" text-anchor="middle" fill="#000" font-weight="bold" stroke="#000" stroke-width="0.25">250</text>
<text x="478.31" y="348.7" font-size="11.2" text-anchor="middle" fill="#000" font-weight="bold" stroke="#000" stroke-width="0.25">300</text>
<text x="506.9" y="348.7" font-size="11.2" text-anchor="middle" fill="#000" font-weight="bold" stroke="#000" stroke-width="0.25">350</text>
<text x="407.2" y="367.4" font-size="12.7" text-anchor="middle" fill="#000" font-weight="bold" stroke="#000" stroke-width="0.25">Times (s)</text>
<text x="271.4" y="255.3" font-size="12.75" font-weight="bold" text-anchor="middle" transform="rotate(-90 271.4 255.3)" stroke="#000" stroke-width="0.25">Current density (<tspan font-weight="normal">μ</tspan>A/cm<tspan font-size="8" dy="-6">2</tspan><tspan dy="6">)</tspan></text>
<text x="250.9" y="179" font-size="15" text-anchor="start" fill="#000" font-weight="bold" stroke="#000" stroke-width="0.25">(d)</text>
<line x1="311" y1="199.5" x2="330.4" y2="199.5" stroke="#16801a" stroke-width="1.3"/>
<text x="332.7" y="202.6" font-size="8.4" fill="#16801a" font-weight="bold" text-anchor="start" stroke="#16801a" stroke-width="0.25">Ag<tspan font-size="4.7" dy="2.2">2</tspan><tspan dy="-2.2">O 0%</tspan></text>
<line x1="311" y1="212.3" x2="330.4" y2="212.3" stroke="#1212dc" stroke-width="1.3"/>
<text x="332.7" y="215.4" font-size="8.4" fill="#1212dc" font-weight="bold" text-anchor="start" stroke="#1212dc" stroke-width="0.25">Ag<tspan font-size="4.7" dy="2.2">2</tspan><tspan dy="-2.2">O 5%</tspan></text>
<line x1="372.7" y1="199.2" x2="391.9" y2="199.2" stroke="#e8161b" stroke-width="1.3"/>
<text x="394.2" y="202.3" font-size="8.4" fill="#e8161b" font-weight="bold" text-anchor="start" stroke="#e8161b" stroke-width="0.25">Ag<tspan font-size="4.7" dy="2.2">2</tspan><tspan dy="-2.2">O 3%</tspan></text>
</svg>
</body></html>
